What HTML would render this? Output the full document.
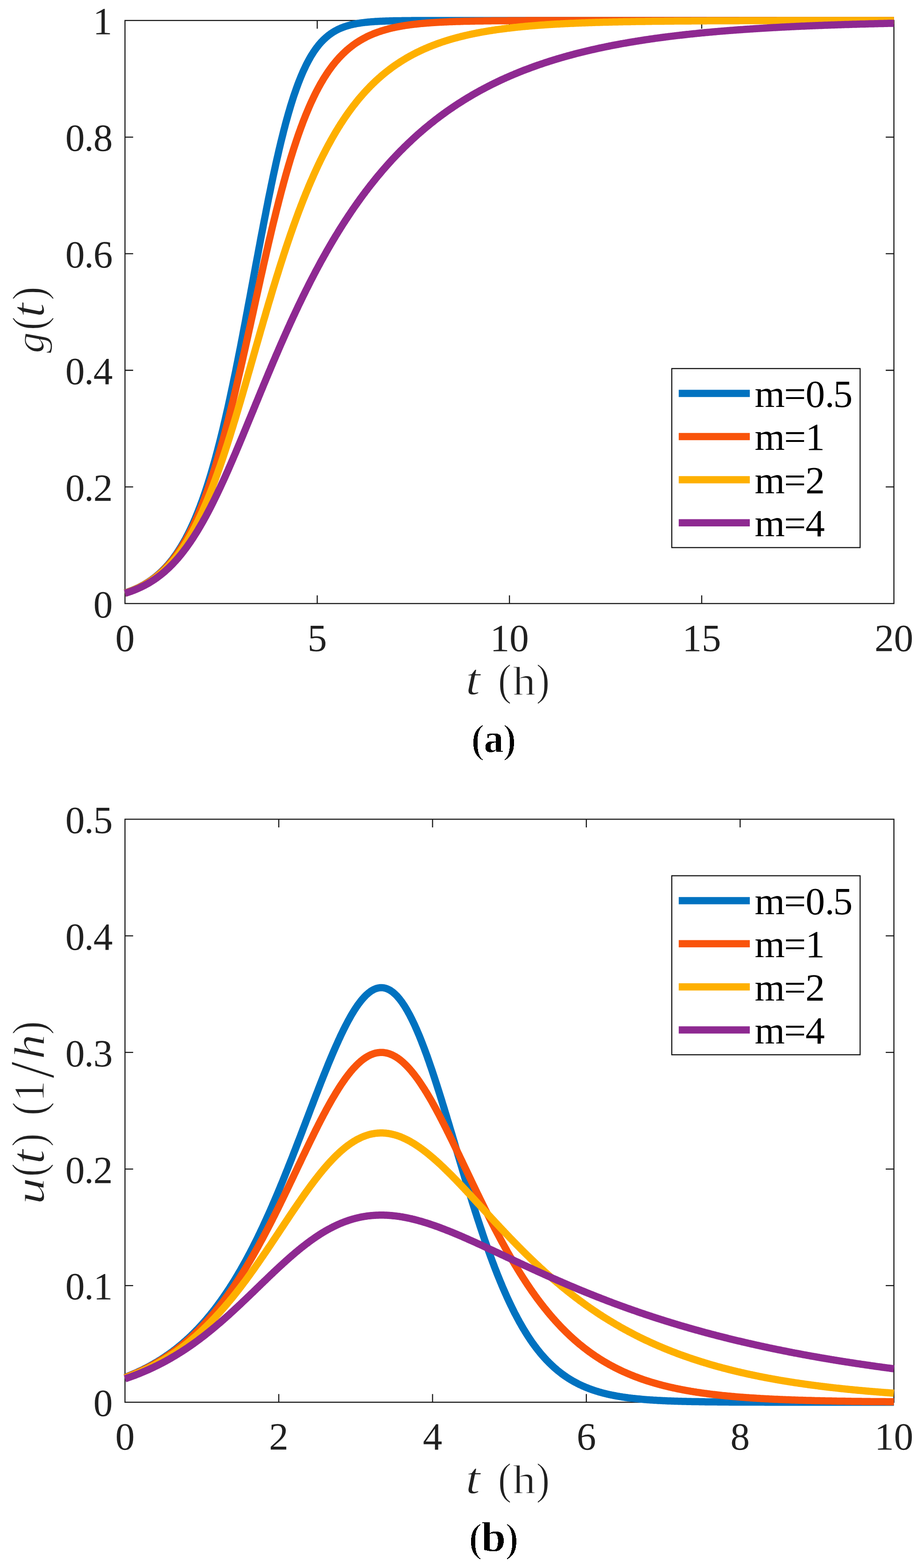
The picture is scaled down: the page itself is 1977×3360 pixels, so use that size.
<!DOCTYPE html><html><head><meta charset="utf-8"><title>g(t) and u(t)</title><style>html,body{margin:0;padding:0;background:#fff;}svg{display:block}</style></head><body>
<svg width="1977" height="3360" viewBox="0 0 1977 3360">
<rect width="1977" height="3360" fill="#fff"/>
<g stroke="#151515" stroke-width="2.3" fill="none">
<path d="M679.5,1293.3V1275.8M679.5,43.9V61.4M1091.2,1293.3V1275.8M1091.2,43.9V61.4M1503.0,1293.3V1275.8M1503.0,43.9V61.4M267.7,1043.4H285.2M1914.7,1043.4H1897.2M267.7,793.5H285.2M1914.7,793.5H1897.2M267.7,543.7H285.2M1914.7,543.7H1897.2M267.7,293.8H285.2M1914.7,293.8H1897.2"/>
<rect x="267.7" y="43.9" width="1647.0" height="1249.4"/>
</g>
<g fill="none" stroke-width="15.5" stroke-linejoin="round" stroke-linecap="butt">
<polyline stroke="#0072C0" points="267.7,1270.7 269.8,1270.0 271.8,1269.3 273.9,1268.6 275.9,1267.9 278.0,1267.1 280.1,1266.3 282.1,1265.5 284.2,1264.7 286.3,1263.8 288.3,1263.0 290.4,1262.1 292.4,1261.1 294.5,1260.2 296.6,1259.2 298.6,1258.2 300.7,1257.1 302.7,1256.0 304.8,1254.9 306.9,1253.8 308.9,1252.6 311.0,1251.4 313.0,1250.1 315.1,1248.9 317.2,1247.5 319.2,1246.2 321.3,1244.8 323.4,1243.4 325.4,1241.9 327.5,1240.4 329.5,1238.8 331.6,1237.2 333.7,1235.5 335.7,1233.8 337.8,1232.1 339.8,1230.3 341.9,1228.5 344.0,1226.6 346.0,1224.6 348.1,1222.6 350.2,1220.5 352.2,1218.4 354.3,1216.3 356.3,1214.0 358.4,1211.7 360.5,1209.4 362.5,1206.9 364.6,1204.4 366.6,1201.9 368.7,1199.3 370.8,1196.6 372.8,1193.8 374.9,1190.9 377.0,1188.0 379.0,1185.0 381.1,1181.9 383.1,1178.8 385.2,1175.5 387.3,1172.2 389.3,1168.8 391.4,1165.3 393.4,1161.7 395.5,1158.0 397.6,1154.3 399.6,1150.4 401.7,1146.4 403.7,1142.4 405.8,1138.2 407.9,1133.9 409.9,1129.6 412.0,1125.1 414.1,1120.5 416.1,1115.8 418.2,1111.0 420.2,1106.1 422.3,1101.1 424.4,1095.9 426.4,1090.6 428.5,1085.3 430.5,1079.7 432.6,1074.1 434.7,1068.4 436.7,1062.5 438.8,1056.5 440.9,1050.3 442.9,1044.1 445.0,1037.7 447.0,1031.2 449.1,1024.5 451.2,1017.7 453.2,1010.8 455.3,1003.8 457.3,996.6 459.4,989.3 461.5,981.8 463.5,974.2 465.6,966.5 467.6,958.6 469.7,950.6 471.8,942.5 473.8,934.2 475.9,925.8 478.0,917.3 480.0,908.6 482.1,899.8 484.1,890.9 486.2,881.8 488.3,872.6 490.3,863.3 492.4,853.9 494.4,844.4 496.5,834.7 498.6,825.0 500.6,815.1 502.7,805.1 504.8,795.0 506.8,784.8 508.9,774.6 510.9,764.2 513.0,753.7 515.1,743.2 517.1,732.6 519.2,721.9 521.2,711.1 523.3,700.3 525.4,689.4 527.4,678.5 529.5,667.5 531.5,656.5 533.6,645.4 535.7,634.4 537.7,623.3 539.8,612.2 541.9,601.0 543.9,589.9 546.0,578.8 548.0,567.7 550.1,556.6 552.2,545.6 554.2,534.5 556.3,523.6 558.3,512.6 560.4,501.7 562.5,490.9 564.5,480.2 566.6,469.5 568.7,458.9 570.7,448.4 572.8,437.9 574.8,427.6 576.9,417.4 579.0,407.3 581.0,397.3 583.1,387.4 585.1,377.6 587.2,368.0 589.3,358.5 591.3,349.2 593.4,340.0 595.5,330.9 597.5,322.0 599.6,313.3 601.6,304.7 603.7,296.3 605.8,288.0 607.8,279.9 609.9,272.0 611.9,264.2 614.0,256.6 616.1,249.2 618.1,241.9 620.2,234.9 622.2,228.0 624.3,221.2 626.4,214.7 628.4,208.3 630.5,202.1 632.6,196.1 634.6,190.2 636.7,184.5 638.7,179.0 640.8,173.6 642.9,168.4 644.9,163.4 647.0,158.5 649.0,153.8 651.1,149.2 653.2,144.8 655.2,140.5 657.3,136.4 659.4,132.4 661.4,128.6 663.5,124.9 665.5,121.3 667.6,117.9 669.7,114.6 671.7,111.4 673.8,108.4 675.8,105.5 677.9,102.6 680.0,99.9 682.0,97.3 684.1,94.8 686.1,92.4 688.2,90.1 690.3,88.0 692.3,85.8 694.4,83.8 696.5,81.9 698.5,80.1 700.6,78.3 702.6,76.6 704.7,75.0 706.8,73.5 708.8,72.0 710.9,70.6 712.9,69.3 715.0,68.0 717.1,66.8 719.1,65.6 721.2,64.5 723.3,63.4 725.3,62.4 727.4,61.5 729.4,60.6 731.5,59.7 733.6,58.9 735.6,58.1 737.7,57.4 739.7,56.7 741.8,56.0 743.9,55.4 745.9,54.7 748.0,54.2 750.1,53.6 752.1,53.1 754.2,52.6 756.2,52.1 758.3,51.7 760.4,51.3 762.4,50.9 764.5,50.5 766.5,50.1 768.6,49.8 770.7,49.5 772.7,49.2 774.8,48.9 776.8,48.6 778.9,48.4 781.0,48.1 783.0,47.9 785.1,47.7 787.2,47.5 789.2,47.3 791.3,47.1 793.3,46.9 795.4,46.7 797.5,46.6 799.5,46.4 801.6,46.3 803.6,46.1 805.7,46.0 807.8,45.9 809.8,45.8 811.9,45.7 814.0,45.6 816.0,45.5 818.1,45.4 820.1,45.3 822.2,45.2 824.3,45.2 826.3,45.1 828.4,45.0 830.4,45.0 832.5,44.9 834.6,44.8 836.6,44.8 838.7,44.7 840.7,44.7 842.8,44.6 844.9,44.6 846.9,44.6 849.0,44.5 851.1,44.5 853.1,44.5 855.2,44.4 857.2,44.4 859.3,44.4 861.4,44.3 863.4,44.3 865.5,44.3 867.5,44.3 869.6,44.2 871.7,44.2 873.7,44.2 875.8,44.2 877.9,44.2 879.9,44.2 882.0,44.1 884.0,44.1 886.1,44.1 888.2,44.1 890.2,44.1 892.3,44.1 894.3,44.1 896.4,44.1 898.5,44.1 900.5,44.0 902.6,44.0 904.6,44.0 906.7,44.0 908.8,44.0 910.8,44.0 912.9,44.0 915.0,44.0 917.0,44.0 919.1,44.0 921.1,44.0 923.2,44.0 925.3,44.0 927.3,44.0 929.4,44.0 931.4,44.0 933.5,44.0 935.6,44.0 937.6,43.9 939.7,43.9 941.8,43.9 943.8,43.9 945.9,43.9 947.9,43.9 950.0,43.9 952.1,43.9 954.1,43.9 956.2,43.9 958.2,43.9 960.3,43.9 962.4,43.9 964.4,43.9 966.5,43.9 968.6,43.9 970.6,43.9 972.7,43.9 974.7,43.9 976.8,43.9 978.9,43.9 980.9,43.9 983.0,43.9 985.0,43.9 987.1,43.9 989.2,43.9 991.2,43.9 993.3,43.9 995.3,43.9 997.4,43.9 999.5,43.9 1001.5,43.9 1003.6,43.9 1005.7,43.9 1007.7,43.9 1009.8,43.9 1011.8,43.9 1013.9,43.9 1016.0,43.9 1018.0,43.9 1020.1,43.9 1022.1,43.9 1024.2,43.9 1026.3,43.9 1028.3,43.9 1030.4,43.9 1032.5,43.9 1034.5,43.9 1036.6,43.9 1038.6,43.9 1040.7,43.9 1042.8,43.9 1044.8,43.9 1046.9,43.9 1048.9,43.9 1051.0,43.9 1053.1,43.9 1055.1,43.9 1057.2,43.9 1059.2,43.9 1061.3,43.9 1063.4,43.9 1065.4,43.9 1067.5,43.9 1069.6,43.9 1071.6,43.9 1073.7,43.9 1075.7,43.9 1077.8,43.9 1079.9,43.9 1081.9,43.9 1084.0,43.9 1086.0,43.9 1088.1,43.9 1090.2,43.9 1092.2,43.9 1094.3,43.9 1096.4,43.9 1098.4,43.9 1100.5,43.9 1102.5,43.9 1104.6,43.9 1106.7,43.9 1108.7,43.9 1110.8,43.9 1112.8,43.9 1114.9,43.9 1117.0,43.9 1119.0,43.9 1121.1,43.9 1123.2,43.9 1125.2,43.9 1127.3,43.9 1129.3,43.9 1131.4,43.9 1133.5,43.9 1135.5,43.9 1137.6,43.9 1139.6,43.9 1141.7,43.9 1143.8,43.9 1145.8,43.9 1147.9,43.9 1149.9,43.9 1152.0,43.9 1154.1,43.9 1156.1,43.9 1158.2,43.9 1160.3,43.9 1162.3,43.9 1164.4,43.9 1166.4,43.9 1168.5,43.9 1170.6,43.9 1172.6,43.9 1174.7,43.9 1176.7,43.9 1178.8,43.9 1180.9,43.9 1182.9,43.9 1185.0,43.9 1187.1,43.9 1189.1,43.9 1191.2,43.9 1193.2,43.9 1195.3,43.9 1197.4,43.9 1199.4,43.9 1201.5,43.9 1203.5,43.9 1205.6,43.9 1207.7,43.9 1209.7,43.9 1211.8,43.9 1213.8,43.9 1215.9,43.9 1218.0,43.9 1220.0,43.9 1222.1,43.9 1224.2,43.9 1226.2,43.9 1228.3,43.9 1230.3,43.9 1232.4,43.9 1234.5,43.9 1236.5,43.9 1238.6,43.9 1240.6,43.9 1242.7,43.9 1244.8,43.9 1246.8,43.9 1248.9,43.9 1251.0,43.9 1253.0,43.9 1255.1,43.9 1257.1,43.9 1259.2,43.9 1261.3,43.9 1263.3,43.9 1265.4,43.9 1267.4,43.9 1269.5,43.9 1271.6,43.9 1273.6,43.9 1275.7,43.9 1277.8,43.9 1279.8,43.9 1281.9,43.9 1283.9,43.9 1286.0,43.9 1288.1,43.9 1290.1,43.9 1292.2,43.9 1294.2,43.9 1296.3,43.9 1298.4,43.9 1300.4,43.9 1302.5,43.9 1304.5,43.9 1306.6,43.9 1308.7,43.9 1310.7,43.9 1312.8,43.9 1314.9,43.9 1316.9,43.9 1319.0,43.9 1321.0,43.9 1323.1,43.9 1325.2,43.9 1327.2,43.9 1329.3,43.9 1331.3,43.9 1333.4,43.9 1335.5,43.9 1337.5,43.9 1339.6,43.9 1341.7,43.9 1343.7,43.9 1345.8,43.9 1347.8,43.9 1349.9,43.9 1352.0,43.9 1354.0,43.9 1356.1,43.9 1358.1,43.9 1360.2,43.9 1362.3,43.9 1364.3,43.9 1366.4,43.9 1368.4,43.9 1370.5,43.9 1372.6,43.9 1374.6,43.9 1376.7,43.9 1378.8,43.9 1380.8,43.9 1382.9,43.9 1384.9,43.9 1387.0,43.9 1389.1,43.9 1391.1,43.9 1393.2,43.9 1395.2,43.9 1397.3,43.9 1399.4,43.9 1401.4,43.9 1403.5,43.9 1405.6,43.9 1407.6,43.9 1409.7,43.9 1411.7,43.9 1413.8,43.9 1415.9,43.9 1417.9,43.9 1420.0,43.9 1422.0,43.9 1424.1,43.9 1426.2,43.9 1428.2,43.9 1430.3,43.9 1432.3,43.9 1434.4,43.9 1436.5,43.9 1438.5,43.9 1440.6,43.9 1442.7,43.9 1444.7,43.9 1446.8,43.9 1448.8,43.9 1450.9,43.9 1453.0,43.9 1455.0,43.9 1457.1,43.9 1459.1,43.9 1461.2,43.9 1463.3,43.9 1465.3,43.9 1467.4,43.9 1469.5,43.9 1471.5,43.9 1473.6,43.9 1475.6,43.9 1477.7,43.9 1479.8,43.9 1481.8,43.9 1483.9,43.9 1485.9,43.9 1488.0,43.9 1490.1,43.9 1492.1,43.9 1494.2,43.9 1496.3,43.9 1498.3,43.9 1500.4,43.9 1502.4,43.9 1504.5,43.9 1506.6,43.9 1508.6,43.9 1510.7,43.9 1512.7,43.9 1514.8,43.9 1516.9,43.9 1518.9,43.9 1521.0,43.9 1523.0,43.9 1525.1,43.9 1527.2,43.9 1529.2,43.9 1531.3,43.9 1533.4,43.9 1535.4,43.9 1537.5,43.9 1539.5,43.9 1541.6,43.9 1543.7,43.9 1545.7,43.9 1547.8,43.9 1549.8,43.9 1551.9,43.9 1554.0,43.9 1556.0,43.9 1558.1,43.9 1560.2,43.9 1562.2,43.9 1564.3,43.9 1566.3,43.9 1568.4,43.9 1570.5,43.9 1572.5,43.9 1574.6,43.9 1576.6,43.9 1578.7,43.9 1580.8,43.9 1582.8,43.9 1584.9,43.9 1586.9,43.9 1589.0,43.9 1591.1,43.9 1593.1,43.9 1595.2,43.9 1597.3,43.9 1599.3,43.9 1601.4,43.9 1603.4,43.9 1605.5,43.9 1607.6,43.9 1609.6,43.9 1611.7,43.9 1613.7,43.9 1615.8,43.9 1617.9,43.9 1619.9,43.9 1622.0,43.9 1624.1,43.9 1626.1,43.9 1628.2,43.9 1630.2,43.9 1632.3,43.9 1634.4,43.9 1636.4,43.9 1638.5,43.9 1640.5,43.9 1642.6,43.9 1644.7,43.9 1646.7,43.9 1648.8,43.9 1650.9,43.9 1652.9,43.9 1655.0,43.9 1657.0,43.9 1659.1,43.9 1661.2,43.9 1663.2,43.9 1665.3,43.9 1667.3,43.9 1669.4,43.9 1671.5,43.9 1673.5,43.9 1675.6,43.9 1677.6,43.9 1679.7,43.9 1681.8,43.9 1683.8,43.9 1685.9,43.9 1688.0,43.9 1690.0,43.9 1692.1,43.9 1694.1,43.9 1696.2,43.9 1698.3,43.9 1700.3,43.9 1702.4,43.9 1704.4,43.9 1706.5,43.9 1708.6,43.9 1710.6,43.9 1712.7,43.9 1714.8,43.9 1716.8,43.9 1718.9,43.9 1720.9,43.9 1723.0,43.9 1725.1,43.9 1727.1,43.9 1729.2,43.9 1731.2,43.9 1733.3,43.9 1735.4,43.9 1737.4,43.9 1739.5,43.9 1741.5,43.9 1743.6,43.9 1745.7,43.9 1747.7,43.9 1749.8,43.9 1751.9,43.9 1753.9,43.9 1756.0,43.9 1758.0,43.9 1760.1,43.9 1762.2,43.9 1764.2,43.9 1766.3,43.9 1768.3,43.9 1770.4,43.9 1772.5,43.9 1774.5,43.9 1776.6,43.9 1778.7,43.9 1780.7,43.9 1782.8,43.9 1784.8,43.9 1786.9,43.9 1789.0,43.9 1791.0,43.9 1793.1,43.9 1795.1,43.9 1797.2,43.9 1799.3,43.9 1801.3,43.9 1803.4,43.9 1805.4,43.9 1807.5,43.9 1809.6,43.9 1811.6,43.9 1813.7,43.9 1815.8,43.9 1817.8,43.9 1819.9,43.9 1821.9,43.9 1824.0,43.9 1826.1,43.9 1828.1,43.9 1830.2,43.9 1832.2,43.9 1834.3,43.9 1836.4,43.9 1838.4,43.9 1840.5,43.9 1842.6,43.9 1844.6,43.9 1846.7,43.9 1848.7,43.9 1850.8,43.9 1852.9,43.9 1854.9,43.9 1857.0,43.9 1859.0,43.9 1861.1,43.9 1863.2,43.9 1865.2,43.9 1867.3,43.9 1869.4,43.9 1871.4,43.9 1873.5,43.9 1875.5,43.9 1877.6,43.9 1879.7,43.9 1881.7,43.9 1883.8,43.9 1885.8,43.9 1887.9,43.9 1890.0,43.9 1892.0,43.9 1894.1,43.9 1896.1,43.9 1898.2,43.9 1900.3,43.9 1902.3,43.9 1904.4,43.9 1906.5,43.9 1908.5,43.9 1910.6,43.9 1912.6,43.9 1914.7,43.9"/>
<polyline stroke="#F9530A" points="267.7,1270.8 269.8,1270.2 271.8,1269.5 273.9,1268.8 275.9,1268.0 278.0,1267.3 280.1,1266.5 282.1,1265.7 284.2,1264.9 286.3,1264.0 288.3,1263.1 290.4,1262.2 292.4,1261.3 294.5,1260.4 296.6,1259.4 298.6,1258.4 300.7,1257.4 302.7,1256.3 304.8,1255.2 306.9,1254.1 308.9,1252.9 311.0,1251.7 313.0,1250.5 315.1,1249.2 317.2,1248.0 319.2,1246.6 321.3,1245.3 323.4,1243.8 325.4,1242.4 327.5,1240.9 329.5,1239.4 331.6,1237.8 333.7,1236.2 335.7,1234.5 337.8,1232.8 339.8,1231.1 341.9,1229.3 344.0,1227.4 346.0,1225.5 348.1,1223.6 350.2,1221.6 352.2,1219.5 354.3,1217.4 356.3,1215.2 358.4,1213.0 360.5,1210.7 362.5,1208.4 364.6,1206.0 366.6,1203.5 368.7,1201.0 370.8,1198.4 372.8,1195.7 374.9,1193.0 377.0,1190.1 379.0,1187.3 381.1,1184.3 383.1,1181.3 385.2,1178.2 387.3,1175.0 389.3,1171.8 391.4,1168.4 393.4,1165.0 395.5,1161.5 397.6,1157.9 399.6,1154.3 401.7,1150.5 403.7,1146.7 405.8,1142.7 407.9,1138.7 409.9,1134.6 412.0,1130.4 414.1,1126.1 416.1,1121.7 418.2,1117.2 420.2,1112.6 422.3,1107.9 424.4,1103.1 426.4,1098.2 428.5,1093.2 430.5,1088.1 432.6,1082.9 434.7,1077.6 436.7,1072.2 438.8,1066.7 440.9,1061.0 442.9,1055.3 445.0,1049.5 447.0,1043.5 449.1,1037.5 451.2,1031.3 453.2,1025.0 455.3,1018.6 457.3,1012.1 459.4,1005.5 461.5,998.8 463.5,992.0 465.6,985.1 467.6,978.1 469.7,970.9 471.8,963.7 473.8,956.4 475.9,948.9 478.0,941.4 480.0,933.7 482.1,926.0 484.1,918.2 486.2,910.2 488.3,902.2 490.3,894.1 492.4,885.9 494.4,877.6 496.5,869.2 498.6,860.8 500.6,852.2 502.7,843.6 504.8,834.9 506.8,826.2 508.9,817.4 510.9,808.5 513.0,799.5 515.1,790.5 517.1,781.5 519.2,772.4 521.2,763.3 523.3,754.1 525.4,744.8 527.4,735.6 529.5,726.3 531.5,717.0 533.6,707.6 535.7,698.3 537.7,688.9 539.8,679.5 541.9,670.2 543.9,660.8 546.0,651.4 548.0,642.0 550.1,632.7 552.2,623.3 554.2,614.0 556.3,604.7 558.3,595.4 560.4,586.2 562.5,577.0 564.5,567.8 566.6,558.7 568.7,549.7 570.7,540.6 572.8,531.7 574.8,522.8 576.9,513.9 579.0,505.2 581.0,496.5 583.1,487.8 585.1,479.3 587.2,470.8 589.3,462.4 591.3,454.1 593.4,445.8 595.5,437.7 597.5,429.6 599.6,421.7 601.6,413.8 603.7,406.0 605.8,398.4 607.8,390.8 609.9,383.3 611.9,375.9 614.0,368.7 616.1,361.5 618.1,354.4 620.2,347.5 622.2,340.6 624.3,333.9 626.4,327.2 628.4,320.7 630.5,314.3 632.6,308.0 634.6,301.8 636.7,295.7 638.7,289.7 640.8,283.8 642.9,278.1 644.9,272.4 647.0,266.9 649.0,261.4 651.1,256.1 653.2,250.8 655.2,245.7 657.3,240.7 659.4,235.7 661.4,230.9 663.5,226.2 665.5,221.5 667.6,217.0 669.7,212.6 671.7,208.3 673.8,204.0 675.8,199.9 677.9,195.8 680.0,191.8 682.0,188.0 684.1,184.2 686.1,180.5 688.2,176.9 690.3,173.4 692.3,169.9 694.4,166.5 696.5,163.3 698.5,160.1 700.6,156.9 702.6,153.9 704.7,150.9 706.8,148.0 708.8,145.2 710.9,142.4 712.9,139.7 715.0,137.1 717.1,134.5 719.1,132.0 721.2,129.6 723.3,127.3 725.3,124.9 727.4,122.7 729.4,120.5 731.5,118.4 733.6,116.3 735.6,114.3 737.7,112.3 739.7,110.4 741.8,108.5 743.9,106.7 745.9,104.9 748.0,103.2 750.1,101.6 752.1,99.9 754.2,98.3 756.2,96.8 758.3,95.3 760.4,93.8 762.4,92.4 764.5,91.0 766.5,89.7 768.6,88.4 770.7,87.1 772.7,85.9 774.8,84.7 776.8,83.5 778.9,82.4 781.0,81.3 783.0,80.2 785.1,79.1 787.2,78.1 789.2,77.1 791.3,76.2 793.3,75.3 795.4,74.4 797.5,73.5 799.5,72.6 801.6,71.8 803.6,71.0 805.7,70.2 807.8,69.4 809.8,68.7 811.9,68.0 814.0,67.3 816.0,66.6 818.1,65.9 820.1,65.3 822.2,64.7 824.3,64.1 826.3,63.5 828.4,62.9 830.4,62.4 832.5,61.8 834.6,61.3 836.6,60.8 838.7,60.3 840.7,59.8 842.8,59.3 844.9,58.9 846.9,58.5 849.0,58.0 851.1,57.6 853.1,57.2 855.2,56.8 857.2,56.4 859.3,56.1 861.4,55.7 863.4,55.4 865.5,55.0 867.5,54.7 869.6,54.4 871.7,54.1 873.7,53.8 875.8,53.5 877.9,53.2 879.9,52.9 882.0,52.7 884.0,52.4 886.1,52.2 888.2,51.9 890.2,51.7 892.3,51.5 894.3,51.2 896.4,51.0 898.5,50.8 900.5,50.6 902.6,50.4 904.6,50.2 906.7,50.0 908.8,49.9 910.8,49.7 912.9,49.5 915.0,49.3 917.0,49.2 919.1,49.0 921.1,48.9 923.2,48.7 925.3,48.6 927.3,48.4 929.4,48.3 931.4,48.2 933.5,48.1 935.6,47.9 937.6,47.8 939.7,47.7 941.8,47.6 943.8,47.5 945.9,47.4 947.9,47.3 950.0,47.2 952.1,47.1 954.1,47.0 956.2,46.9 958.2,46.8 960.3,46.7 962.4,46.6 964.4,46.6 966.5,46.5 968.6,46.4 970.6,46.3 972.7,46.3 974.7,46.2 976.8,46.1 978.9,46.1 980.9,46.0 983.0,45.9 985.0,45.9 987.1,45.8 989.2,45.8 991.2,45.7 993.3,45.6 995.3,45.6 997.4,45.5 999.5,45.5 1001.5,45.4 1003.6,45.4 1005.7,45.4 1007.7,45.3 1009.8,45.3 1011.8,45.2 1013.9,45.2 1016.0,45.2 1018.0,45.1 1020.1,45.1 1022.1,45.0 1024.2,45.0 1026.3,45.0 1028.3,44.9 1030.4,44.9 1032.5,44.9 1034.5,44.9 1036.6,44.8 1038.6,44.8 1040.7,44.8 1042.8,44.7 1044.8,44.7 1046.9,44.7 1048.9,44.7 1051.0,44.7 1053.1,44.6 1055.1,44.6 1057.2,44.6 1059.2,44.6 1061.3,44.5 1063.4,44.5 1065.4,44.5 1067.5,44.5 1069.6,44.5 1071.6,44.5 1073.7,44.4 1075.7,44.4 1077.8,44.4 1079.9,44.4 1081.9,44.4 1084.0,44.4 1086.0,44.4 1088.1,44.3 1090.2,44.3 1092.2,44.3 1094.3,44.3 1096.4,44.3 1098.4,44.3 1100.5,44.3 1102.5,44.3 1104.6,44.2 1106.7,44.2 1108.7,44.2 1110.8,44.2 1112.8,44.2 1114.9,44.2 1117.0,44.2 1119.0,44.2 1121.1,44.2 1123.2,44.2 1125.2,44.2 1127.3,44.1 1129.3,44.1 1131.4,44.1 1133.5,44.1 1135.5,44.1 1137.6,44.1 1139.6,44.1 1141.7,44.1 1143.8,44.1 1145.8,44.1 1147.9,44.1 1149.9,44.1 1152.0,44.1 1154.1,44.1 1156.1,44.1 1158.2,44.1 1160.3,44.1 1162.3,44.0 1164.4,44.0 1166.4,44.0 1168.5,44.0 1170.6,44.0 1172.6,44.0 1174.7,44.0 1176.7,44.0 1178.8,44.0 1180.9,44.0 1182.9,44.0 1185.0,44.0 1187.1,44.0 1189.1,44.0 1191.2,44.0 1193.2,44.0 1195.3,44.0 1197.4,44.0 1199.4,44.0 1201.5,44.0 1203.5,44.0 1205.6,44.0 1207.7,44.0 1209.7,44.0 1211.8,44.0 1213.8,44.0 1215.9,44.0 1218.0,44.0 1220.0,44.0 1222.1,44.0 1224.2,44.0 1226.2,44.0 1228.3,44.0 1230.3,44.0 1232.4,44.0 1234.5,44.0 1236.5,44.0 1238.6,43.9 1240.6,43.9 1242.7,43.9 1244.8,43.9 1246.8,43.9 1248.9,43.9 1251.0,43.9 1253.0,43.9 1255.1,43.9 1257.1,43.9 1259.2,43.9 1261.3,43.9 1263.3,43.9 1265.4,43.9 1267.4,43.9 1269.5,43.9 1271.6,43.9 1273.6,43.9 1275.7,43.9 1277.8,43.9 1279.8,43.9 1281.9,43.9 1283.9,43.9 1286.0,43.9 1288.1,43.9 1290.1,43.9 1292.2,43.9 1294.2,43.9 1296.3,43.9 1298.4,43.9 1300.4,43.9 1302.5,43.9 1304.5,43.9 1306.6,43.9 1308.7,43.9 1310.7,43.9 1312.8,43.9 1314.9,43.9 1316.9,43.9 1319.0,43.9 1321.0,43.9 1323.1,43.9 1325.2,43.9 1327.2,43.9 1329.3,43.9 1331.3,43.9 1333.4,43.9 1335.5,43.9 1337.5,43.9 1339.6,43.9 1341.7,43.9 1343.7,43.9 1345.8,43.9 1347.8,43.9 1349.9,43.9 1352.0,43.9 1354.0,43.9 1356.1,43.9 1358.1,43.9 1360.2,43.9 1362.3,43.9 1364.3,43.9 1366.4,43.9 1368.4,43.9 1370.5,43.9 1372.6,43.9 1374.6,43.9 1376.7,43.9 1378.8,43.9 1380.8,43.9 1382.9,43.9 1384.9,43.9 1387.0,43.9 1389.1,43.9 1391.1,43.9 1393.2,43.9 1395.2,43.9 1397.3,43.9 1399.4,43.9 1401.4,43.9 1403.5,43.9 1405.6,43.9 1407.6,43.9 1409.7,43.9 1411.7,43.9 1413.8,43.9 1415.9,43.9 1417.9,43.9 1420.0,43.9 1422.0,43.9 1424.1,43.9 1426.2,43.9 1428.2,43.9 1430.3,43.9 1432.3,43.9 1434.4,43.9 1436.5,43.9 1438.5,43.9 1440.6,43.9 1442.7,43.9 1444.7,43.9 1446.8,43.9 1448.8,43.9 1450.9,43.9 1453.0,43.9 1455.0,43.9 1457.1,43.9 1459.1,43.9 1461.2,43.9 1463.3,43.9 1465.3,43.9 1467.4,43.9 1469.5,43.9 1471.5,43.9 1473.6,43.9 1475.6,43.9 1477.7,43.9 1479.8,43.9 1481.8,43.9 1483.9,43.9 1485.9,43.9 1488.0,43.9 1490.1,43.9 1492.1,43.9 1494.2,43.9 1496.3,43.9 1498.3,43.9 1500.4,43.9 1502.4,43.9 1504.5,43.9 1506.6,43.9 1508.6,43.9 1510.7,43.9 1512.7,43.9 1514.8,43.9 1516.9,43.9 1518.9,43.9 1521.0,43.9 1523.0,43.9 1525.1,43.9 1527.2,43.9 1529.2,43.9 1531.3,43.9 1533.4,43.9 1535.4,43.9 1537.5,43.9 1539.5,43.9 1541.6,43.9 1543.7,43.9 1545.7,43.9 1547.8,43.9 1549.8,43.9 1551.9,43.9 1554.0,43.9 1556.0,43.9 1558.1,43.9 1560.2,43.9 1562.2,43.9 1564.3,43.9 1566.3,43.9 1568.4,43.9 1570.5,43.9 1572.5,43.9 1574.6,43.9 1576.6,43.9 1578.7,43.9 1580.8,43.9 1582.8,43.9 1584.9,43.9 1586.9,43.9 1589.0,43.9 1591.1,43.9 1593.1,43.9 1595.2,43.9 1597.3,43.9 1599.3,43.9 1601.4,43.9 1603.4,43.9 1605.5,43.9 1607.6,43.9 1609.6,43.9 1611.7,43.9 1613.7,43.9 1615.8,43.9 1617.9,43.9 1619.9,43.9 1622.0,43.9 1624.1,43.9 1626.1,43.9 1628.2,43.9 1630.2,43.9 1632.3,43.9 1634.4,43.9 1636.4,43.9 1638.5,43.9 1640.5,43.9 1642.6,43.9 1644.7,43.9 1646.7,43.9 1648.8,43.9 1650.9,43.9 1652.9,43.9 1655.0,43.9 1657.0,43.9 1659.1,43.9 1661.2,43.9 1663.2,43.9 1665.3,43.9 1667.3,43.9 1669.4,43.9 1671.5,43.9 1673.5,43.9 1675.6,43.9 1677.6,43.9 1679.7,43.9 1681.8,43.9 1683.8,43.9 1685.9,43.9 1688.0,43.9 1690.0,43.9 1692.1,43.9 1694.1,43.9 1696.2,43.9 1698.3,43.9 1700.3,43.9 1702.4,43.9 1704.4,43.9 1706.5,43.9 1708.6,43.9 1710.6,43.9 1712.7,43.9 1714.8,43.9 1716.8,43.9 1718.9,43.9 1720.9,43.9 1723.0,43.9 1725.1,43.9 1727.1,43.9 1729.2,43.9 1731.2,43.9 1733.3,43.9 1735.4,43.9 1737.4,43.9 1739.5,43.9 1741.5,43.9 1743.6,43.9 1745.7,43.9 1747.7,43.9 1749.8,43.9 1751.9,43.9 1753.9,43.9 1756.0,43.9 1758.0,43.9 1760.1,43.9 1762.2,43.9 1764.2,43.9 1766.3,43.9 1768.3,43.9 1770.4,43.9 1772.5,43.9 1774.5,43.9 1776.6,43.9 1778.7,43.9 1780.7,43.9 1782.8,43.9 1784.8,43.9 1786.9,43.9 1789.0,43.9 1791.0,43.9 1793.1,43.9 1795.1,43.9 1797.2,43.9 1799.3,43.9 1801.3,43.9 1803.4,43.9 1805.4,43.9 1807.5,43.9 1809.6,43.9 1811.6,43.9 1813.7,43.9 1815.8,43.9 1817.8,43.9 1819.9,43.9 1821.9,43.9 1824.0,43.9 1826.1,43.9 1828.1,43.9 1830.2,43.9 1832.2,43.9 1834.3,43.9 1836.4,43.9 1838.4,43.9 1840.5,43.9 1842.6,43.9 1844.6,43.9 1846.7,43.9 1848.7,43.9 1850.8,43.9 1852.9,43.9 1854.9,43.9 1857.0,43.9 1859.0,43.9 1861.1,43.9 1863.2,43.9 1865.2,43.9 1867.3,43.9 1869.4,43.9 1871.4,43.9 1873.5,43.9 1875.5,43.9 1877.6,43.9 1879.7,43.9 1881.7,43.9 1883.8,43.9 1885.8,43.9 1887.9,43.9 1890.0,43.9 1892.0,43.9 1894.1,43.9 1896.1,43.9 1898.2,43.9 1900.3,43.9 1902.3,43.9 1904.4,43.9 1906.5,43.9 1908.5,43.9 1910.6,43.9 1912.6,43.9 1914.7,43.9"/>
<polyline stroke="#FEB000" points="267.7,1271.0 269.8,1270.4 271.8,1269.7 273.9,1269.0 275.9,1268.3 278.0,1267.5 280.1,1266.8 282.1,1266.0 284.2,1265.2 286.3,1264.4 288.3,1263.5 290.4,1262.6 292.4,1261.7 294.5,1260.8 296.6,1259.8 298.6,1258.9 300.7,1257.9 302.7,1256.8 304.8,1255.8 306.9,1254.7 308.9,1253.6 311.0,1252.4 313.0,1251.2 315.1,1250.0 317.2,1248.7 319.2,1247.5 321.3,1246.1 323.4,1244.8 325.4,1243.4 327.5,1242.0 329.5,1240.5 331.6,1239.0 333.7,1237.4 335.7,1235.9 337.8,1234.2 339.8,1232.6 341.9,1230.8 344.0,1229.1 346.0,1227.3 348.1,1225.4 350.2,1223.5 352.2,1221.6 354.3,1219.6 356.3,1217.5 358.4,1215.4 360.5,1213.3 362.5,1211.1 364.6,1208.8 366.6,1206.5 368.7,1204.1 370.8,1201.7 372.8,1199.2 374.9,1196.7 377.0,1194.1 379.0,1191.4 381.1,1188.7 383.1,1185.9 385.2,1183.0 387.3,1180.1 389.3,1177.1 391.4,1174.1 393.4,1171.0 395.5,1167.8 397.6,1164.5 399.6,1161.2 401.7,1157.8 403.7,1154.3 405.8,1150.8 407.9,1147.2 409.9,1143.5 412.0,1139.7 414.1,1135.9 416.1,1132.0 418.2,1128.0 420.2,1123.9 422.3,1119.8 424.4,1115.6 426.4,1111.3 428.5,1106.9 430.5,1102.5 432.6,1098.0 434.7,1093.4 436.7,1088.7 438.8,1083.9 440.9,1079.1 442.9,1074.2 445.0,1069.2 447.0,1064.1 449.1,1059.0 451.2,1053.7 453.2,1048.4 455.3,1043.1 457.3,1037.6 459.4,1032.1 461.5,1026.5 463.5,1020.8 465.6,1015.1 467.6,1009.3 469.7,1003.4 471.8,997.5 473.8,991.5 475.9,985.4 478.0,979.2 480.0,973.0 482.1,966.8 484.1,960.4 486.2,954.1 488.3,947.6 490.3,941.1 492.4,934.6 494.4,928.0 496.5,921.3 498.6,914.6 500.6,907.9 502.7,901.1 504.8,894.2 506.8,887.4 508.9,880.4 510.9,873.5 513.0,866.5 515.1,859.5 517.1,852.4 519.2,845.4 521.2,838.3 523.3,831.2 525.4,824.0 527.4,816.9 529.5,809.7 531.5,802.5 533.6,795.3 535.7,788.1 537.7,780.9 539.8,773.7 541.9,766.4 543.9,759.2 546.0,752.0 548.0,744.8 550.1,737.6 552.2,730.4 554.2,723.2 556.3,716.0 558.3,708.8 560.4,701.7 562.5,694.6 564.5,687.4 566.6,680.4 568.7,673.3 570.7,666.2 572.8,659.2 574.8,652.2 576.9,645.3 579.0,638.4 581.0,631.5 583.1,624.6 585.1,617.8 587.2,611.0 589.3,604.3 591.3,597.6 593.4,590.9 595.5,584.3 597.5,577.7 599.6,571.2 601.6,564.7 603.7,558.3 605.8,551.9 607.8,545.5 609.9,539.2 611.9,533.0 614.0,526.8 616.1,520.6 618.1,514.6 620.2,508.5 622.2,502.5 624.3,496.6 626.4,490.7 628.4,484.9 630.5,479.1 632.6,473.4 634.6,467.7 636.7,462.1 638.7,456.6 640.8,451.1 642.9,445.7 644.9,440.3 647.0,435.0 649.0,429.7 651.1,424.5 653.2,419.3 655.2,414.2 657.3,409.2 659.4,404.2 661.4,399.2 663.5,394.4 665.5,389.5 667.6,384.8 669.7,380.1 671.7,375.4 673.8,370.8 675.8,366.3 677.9,361.8 680.0,357.3 682.0,352.9 684.1,348.6 686.1,344.3 688.2,340.1 690.3,335.9 692.3,331.8 694.4,327.8 696.5,323.7 698.5,319.8 700.6,315.9 702.6,312.0 704.7,308.2 706.8,304.4 708.8,300.7 710.9,297.0 712.9,293.4 715.0,289.8 717.1,286.3 719.1,282.8 721.2,279.4 723.3,276.0 725.3,272.6 727.4,269.4 729.4,266.1 731.5,262.9 733.6,259.7 735.6,256.6 737.7,253.5 739.7,250.5 741.8,247.5 743.9,244.5 745.9,241.6 748.0,238.7 750.1,235.9 752.1,233.1 754.2,230.3 756.2,227.6 758.3,224.9 760.4,222.3 762.4,219.7 764.5,217.1 766.5,214.6 768.6,212.1 770.7,209.6 772.7,207.2 774.8,204.8 776.8,202.5 778.9,200.1 781.0,197.8 783.0,195.6 785.1,193.3 787.2,191.1 789.2,189.0 791.3,186.8 793.3,184.7 795.4,182.7 797.5,180.6 799.5,178.6 801.6,176.6 803.6,174.7 805.7,172.7 807.8,170.8 809.8,169.0 811.9,167.1 814.0,165.3 816.0,163.5 818.1,161.7 820.1,160.0 822.2,158.3 824.3,156.6 826.3,154.9 828.4,153.3 830.4,151.7 832.5,150.1 834.6,148.5 836.6,147.0 838.7,145.4 840.7,143.9 842.8,142.4 844.9,141.0 846.9,139.5 849.0,138.1 851.1,136.7 853.1,135.4 855.2,134.0 857.2,132.7 859.3,131.3 861.4,130.0 863.4,128.8 865.5,127.5 867.5,126.3 869.6,125.0 871.7,123.8 873.7,122.7 875.8,121.5 877.9,120.3 879.9,119.2 882.0,118.1 884.0,117.0 886.1,115.9 888.2,114.8 890.2,113.8 892.3,112.7 894.3,111.7 896.4,110.7 898.5,109.7 900.5,108.7 902.6,107.8 904.6,106.8 906.7,105.9 908.8,105.0 910.8,104.0 912.9,103.2 915.0,102.3 917.0,101.4 919.1,100.5 921.1,99.7 923.2,98.9 925.3,98.1 927.3,97.3 929.4,96.5 931.4,95.7 933.5,94.9 935.6,94.1 937.6,93.4 939.7,92.7 941.8,91.9 943.8,91.2 945.9,90.5 947.9,89.8 950.0,89.1 952.1,88.5 954.1,87.8 956.2,87.1 958.2,86.5 960.3,85.9 962.4,85.2 964.4,84.6 966.5,84.0 968.6,83.4 970.6,82.8 972.7,82.3 974.7,81.7 976.8,81.1 978.9,80.6 980.9,80.0 983.0,79.5 985.0,79.0 987.1,78.4 989.2,77.9 991.2,77.4 993.3,76.9 995.3,76.4 997.4,75.9 999.5,75.5 1001.5,75.0 1003.6,74.5 1005.7,74.1 1007.7,73.6 1009.8,73.2 1011.8,72.7 1013.9,72.3 1016.0,71.9 1018.0,71.5 1020.1,71.1 1022.1,70.7 1024.2,70.3 1026.3,69.9 1028.3,69.5 1030.4,69.1 1032.5,68.7 1034.5,68.4 1036.6,68.0 1038.6,67.6 1040.7,67.3 1042.8,66.9 1044.8,66.6 1046.9,66.2 1048.9,65.9 1051.0,65.6 1053.1,65.3 1055.1,64.9 1057.2,64.6 1059.2,64.3 1061.3,64.0 1063.4,63.7 1065.4,63.4 1067.5,63.1 1069.6,62.8 1071.6,62.6 1073.7,62.3 1075.7,62.0 1077.8,61.7 1079.9,61.5 1081.9,61.2 1084.0,61.0 1086.0,60.7 1088.1,60.4 1090.2,60.2 1092.2,60.0 1094.3,59.7 1096.4,59.5 1098.4,59.3 1100.5,59.0 1102.5,58.8 1104.6,58.6 1106.7,58.4 1108.7,58.1 1110.8,57.9 1112.8,57.7 1114.9,57.5 1117.0,57.3 1119.0,57.1 1121.1,56.9 1123.2,56.7 1125.2,56.5 1127.3,56.3 1129.3,56.2 1131.4,56.0 1133.5,55.8 1135.5,55.6 1137.6,55.4 1139.6,55.3 1141.7,55.1 1143.8,54.9 1145.8,54.8 1147.9,54.6 1149.9,54.4 1152.0,54.3 1154.1,54.1 1156.1,54.0 1158.2,53.8 1160.3,53.7 1162.3,53.5 1164.4,53.4 1166.4,53.3 1168.5,53.1 1170.6,53.0 1172.6,52.8 1174.7,52.7 1176.7,52.6 1178.8,52.4 1180.9,52.3 1182.9,52.2 1185.0,52.1 1187.1,51.9 1189.1,51.8 1191.2,51.7 1193.2,51.6 1195.3,51.5 1197.4,51.4 1199.4,51.3 1201.5,51.1 1203.5,51.0 1205.6,50.9 1207.7,50.8 1209.7,50.7 1211.8,50.6 1213.8,50.5 1215.9,50.4 1218.0,50.3 1220.0,50.2 1222.1,50.1 1224.2,50.0 1226.2,50.0 1228.3,49.9 1230.3,49.8 1232.4,49.7 1234.5,49.6 1236.5,49.5 1238.6,49.4 1240.6,49.3 1242.7,49.3 1244.8,49.2 1246.8,49.1 1248.9,49.0 1251.0,49.0 1253.0,48.9 1255.1,48.8 1257.1,48.7 1259.2,48.7 1261.3,48.6 1263.3,48.5 1265.4,48.4 1267.4,48.4 1269.5,48.3 1271.6,48.2 1273.6,48.2 1275.7,48.1 1277.8,48.1 1279.8,48.0 1281.9,47.9 1283.9,47.9 1286.0,47.8 1288.1,47.8 1290.1,47.7 1292.2,47.6 1294.2,47.6 1296.3,47.5 1298.4,47.5 1300.4,47.4 1302.5,47.4 1304.5,47.3 1306.6,47.3 1308.7,47.2 1310.7,47.2 1312.8,47.1 1314.9,47.1 1316.9,47.0 1319.0,47.0 1321.0,46.9 1323.1,46.9 1325.2,46.8 1327.2,46.8 1329.3,46.8 1331.3,46.7 1333.4,46.7 1335.5,46.6 1337.5,46.6 1339.6,46.5 1341.7,46.5 1343.7,46.5 1345.8,46.4 1347.8,46.4 1349.9,46.4 1352.0,46.3 1354.0,46.3 1356.1,46.2 1358.1,46.2 1360.2,46.2 1362.3,46.1 1364.3,46.1 1366.4,46.1 1368.4,46.0 1370.5,46.0 1372.6,46.0 1374.6,46.0 1376.7,45.9 1378.8,45.9 1380.8,45.9 1382.9,45.8 1384.9,45.8 1387.0,45.8 1389.1,45.7 1391.1,45.7 1393.2,45.7 1395.2,45.7 1397.3,45.6 1399.4,45.6 1401.4,45.6 1403.5,45.6 1405.6,45.5 1407.6,45.5 1409.7,45.5 1411.7,45.5 1413.8,45.4 1415.9,45.4 1417.9,45.4 1420.0,45.4 1422.0,45.4 1424.1,45.3 1426.2,45.3 1428.2,45.3 1430.3,45.3 1432.3,45.2 1434.4,45.2 1436.5,45.2 1438.5,45.2 1440.6,45.2 1442.7,45.2 1444.7,45.1 1446.8,45.1 1448.8,45.1 1450.9,45.1 1453.0,45.1 1455.0,45.0 1457.1,45.0 1459.1,45.0 1461.2,45.0 1463.3,45.0 1465.3,45.0 1467.4,44.9 1469.5,44.9 1471.5,44.9 1473.6,44.9 1475.6,44.9 1477.7,44.9 1479.8,44.9 1481.8,44.8 1483.9,44.8 1485.9,44.8 1488.0,44.8 1490.1,44.8 1492.1,44.8 1494.2,44.8 1496.3,44.7 1498.3,44.7 1500.4,44.7 1502.4,44.7 1504.5,44.7 1506.6,44.7 1508.6,44.7 1510.7,44.7 1512.7,44.7 1514.8,44.6 1516.9,44.6 1518.9,44.6 1521.0,44.6 1523.0,44.6 1525.1,44.6 1527.2,44.6 1529.2,44.6 1531.3,44.6 1533.4,44.5 1535.4,44.5 1537.5,44.5 1539.5,44.5 1541.6,44.5 1543.7,44.5 1545.7,44.5 1547.8,44.5 1549.8,44.5 1551.9,44.5 1554.0,44.5 1556.0,44.4 1558.1,44.4 1560.2,44.4 1562.2,44.4 1564.3,44.4 1566.3,44.4 1568.4,44.4 1570.5,44.4 1572.5,44.4 1574.6,44.4 1576.6,44.4 1578.7,44.4 1580.8,44.4 1582.8,44.4 1584.9,44.3 1586.9,44.3 1589.0,44.3 1591.1,44.3 1593.1,44.3 1595.2,44.3 1597.3,44.3 1599.3,44.3 1601.4,44.3 1603.4,44.3 1605.5,44.3 1607.6,44.3 1609.6,44.3 1611.7,44.3 1613.7,44.3 1615.8,44.3 1617.9,44.2 1619.9,44.2 1622.0,44.2 1624.1,44.2 1626.1,44.2 1628.2,44.2 1630.2,44.2 1632.3,44.2 1634.4,44.2 1636.4,44.2 1638.5,44.2 1640.5,44.2 1642.6,44.2 1644.7,44.2 1646.7,44.2 1648.8,44.2 1650.9,44.2 1652.9,44.2 1655.0,44.2 1657.0,44.2 1659.1,44.2 1661.2,44.2 1663.2,44.2 1665.3,44.1 1667.3,44.1 1669.4,44.1 1671.5,44.1 1673.5,44.1 1675.6,44.1 1677.6,44.1 1679.7,44.1 1681.8,44.1 1683.8,44.1 1685.9,44.1 1688.0,44.1 1690.0,44.1 1692.1,44.1 1694.1,44.1 1696.2,44.1 1698.3,44.1 1700.3,44.1 1702.4,44.1 1704.4,44.1 1706.5,44.1 1708.6,44.1 1710.6,44.1 1712.7,44.1 1714.8,44.1 1716.8,44.1 1718.9,44.1 1720.9,44.1 1723.0,44.1 1725.1,44.1 1727.1,44.1 1729.2,44.1 1731.2,44.1 1733.3,44.1 1735.4,44.0 1737.4,44.0 1739.5,44.0 1741.5,44.0 1743.6,44.0 1745.7,44.0 1747.7,44.0 1749.8,44.0 1751.9,44.0 1753.9,44.0 1756.0,44.0 1758.0,44.0 1760.1,44.0 1762.2,44.0 1764.2,44.0 1766.3,44.0 1768.3,44.0 1770.4,44.0 1772.5,44.0 1774.5,44.0 1776.6,44.0 1778.7,44.0 1780.7,44.0 1782.8,44.0 1784.8,44.0 1786.9,44.0 1789.0,44.0 1791.0,44.0 1793.1,44.0 1795.1,44.0 1797.2,44.0 1799.3,44.0 1801.3,44.0 1803.4,44.0 1805.4,44.0 1807.5,44.0 1809.6,44.0 1811.6,44.0 1813.7,44.0 1815.8,44.0 1817.8,44.0 1819.9,44.0 1821.9,44.0 1824.0,44.0 1826.1,44.0 1828.1,44.0 1830.2,44.0 1832.2,44.0 1834.3,44.0 1836.4,44.0 1838.4,44.0 1840.5,44.0 1842.6,44.0 1844.6,44.0 1846.7,44.0 1848.7,44.0 1850.8,44.0 1852.9,44.0 1854.9,44.0 1857.0,44.0 1859.0,44.0 1861.1,44.0 1863.2,44.0 1865.2,44.0 1867.3,44.0 1869.4,44.0 1871.4,44.0 1873.5,44.0 1875.5,44.0 1877.6,44.0 1879.7,44.0 1881.7,44.0 1883.8,44.0 1885.8,43.9 1887.9,43.9 1890.0,43.9 1892.0,43.9 1894.1,43.9 1896.1,43.9 1898.2,43.9 1900.3,43.9 1902.3,43.9 1904.4,43.9 1906.5,43.9 1908.5,43.9 1910.6,43.9 1912.6,43.9 1914.7,43.9"/>
<polyline stroke="#8E2991" points="267.7,1271.4 269.8,1270.8 271.8,1270.1 273.9,1269.4 275.9,1268.8 278.0,1268.0 280.1,1267.3 282.1,1266.6 284.2,1265.8 286.3,1265.0 288.3,1264.2 290.4,1263.3 292.4,1262.5 294.5,1261.6 296.6,1260.7 298.6,1259.8 300.7,1258.8 302.7,1257.8 304.8,1256.8 306.9,1255.8 308.9,1254.7 311.0,1253.7 313.0,1252.5 315.1,1251.4 317.2,1250.2 319.2,1249.0 321.3,1247.8 323.4,1246.5 325.4,1245.2 327.5,1243.9 329.5,1242.6 331.6,1241.2 333.7,1239.7 335.7,1238.3 337.8,1236.8 339.8,1235.2 341.9,1233.7 344.0,1232.1 346.0,1230.4 348.1,1228.7 350.2,1227.0 352.2,1225.3 354.3,1223.5 356.3,1221.6 358.4,1219.7 360.5,1217.8 362.5,1215.9 364.6,1213.8 366.6,1211.8 368.7,1209.7 370.8,1207.6 372.8,1205.4 374.9,1203.1 377.0,1200.9 379.0,1198.5 381.1,1196.2 383.1,1193.8 385.2,1191.3 387.3,1188.8 389.3,1186.2 391.4,1183.6 393.4,1181.0 395.5,1178.2 397.6,1175.5 399.6,1172.7 401.7,1169.8 403.7,1166.9 405.8,1164.0 407.9,1161.0 409.9,1157.9 412.0,1154.8 414.1,1151.7 416.1,1148.5 418.2,1145.2 420.2,1141.9 422.3,1138.6 424.4,1135.2 426.4,1131.7 428.5,1128.2 430.5,1124.7 432.6,1121.1 434.7,1117.4 436.7,1113.7 438.8,1110.0 440.9,1106.2 442.9,1102.4 445.0,1098.5 447.0,1094.6 449.1,1090.6 451.2,1086.6 453.2,1082.5 455.3,1078.4 457.3,1074.3 459.4,1070.1 461.5,1065.9 463.5,1061.7 465.6,1057.4 467.6,1053.0 469.7,1048.7 471.8,1044.2 473.8,1039.8 475.9,1035.3 478.0,1030.8 480.0,1026.3 482.1,1021.7 484.1,1017.1 486.2,1012.5 488.3,1007.8 490.3,1003.1 492.4,998.4 494.4,993.7 496.5,988.9 498.6,984.1 500.6,979.3 502.7,974.5 504.8,969.6 506.8,964.8 508.9,959.9 510.9,955.0 513.0,950.1 515.1,945.1 517.1,940.2 519.2,935.3 521.2,930.3 523.3,925.3 525.4,920.3 527.4,915.3 529.5,910.3 531.5,905.3 533.6,900.3 535.7,895.3 537.7,890.3 539.8,885.3 541.9,880.3 543.9,875.2 546.0,870.2 548.0,865.2 550.1,860.2 552.2,855.2 554.2,850.2 556.3,845.2 558.3,840.2 560.4,835.2 562.5,830.2 564.5,825.2 566.6,820.3 568.7,815.3 570.7,810.4 572.8,805.4 574.8,800.5 576.9,795.6 579.0,790.7 581.0,785.8 583.1,780.9 585.1,776.1 587.2,771.2 589.3,766.4 591.3,761.6 593.4,756.8 595.5,752.0 597.5,747.3 599.6,742.5 601.6,737.8 603.7,733.1 605.8,728.4 607.8,723.7 609.9,719.1 611.9,714.5 614.0,709.9 616.1,705.3 618.1,700.7 620.2,696.2 622.2,691.6 624.3,687.1 626.4,682.7 628.4,678.2 630.5,673.8 632.6,669.3 634.6,665.0 636.7,660.6 638.7,656.2 640.8,651.9 642.9,647.6 644.9,643.4 647.0,639.1 649.0,634.9 651.1,630.7 653.2,626.5 655.2,622.3 657.3,618.2 659.4,614.1 661.4,610.0 663.5,605.9 665.5,601.9 667.6,597.9 669.7,593.9 671.7,590.0 673.8,586.0 675.8,582.1 677.9,578.2 680.0,574.3 682.0,570.5 684.1,566.7 686.1,562.9 688.2,559.1 690.3,555.4 692.3,551.7 694.4,548.0 696.5,544.3 698.5,540.6 700.6,537.0 702.6,533.4 704.7,529.8 706.8,526.3 708.8,522.7 710.9,519.2 712.9,515.8 715.0,512.3 717.1,508.9 719.1,505.4 721.2,502.1 723.3,498.7 725.3,495.3 727.4,492.0 729.4,488.7 731.5,485.5 733.6,482.2 735.6,479.0 737.7,475.8 739.7,472.6 741.8,469.4 743.9,466.3 745.9,463.2 748.0,460.1 750.1,457.0 752.1,453.9 754.2,450.9 756.2,447.9 758.3,444.9 760.4,441.9 762.4,439.0 764.5,436.1 766.5,433.1 768.6,430.3 770.7,427.4 772.7,424.6 774.8,421.7 776.8,418.9 778.9,416.1 781.0,413.4 783.0,410.6 785.1,407.9 787.2,405.2 789.2,402.5 791.3,399.9 793.3,397.2 795.4,394.6 797.5,392.0 799.5,389.4 801.6,386.8 803.6,384.3 805.7,381.7 807.8,379.2 809.8,376.7 811.9,374.2 814.0,371.8 816.0,369.3 818.1,366.9 820.1,364.5 822.2,362.1 824.3,359.8 826.3,357.4 828.4,355.1 830.4,352.7 832.5,350.4 834.6,348.2 836.6,345.9 838.7,343.6 840.7,341.4 842.8,339.2 844.9,337.0 846.9,334.8 849.0,332.6 851.1,330.5 853.1,328.3 855.2,326.2 857.2,324.1 859.3,322.0 861.4,319.9 863.4,317.9 865.5,315.8 867.5,313.8 869.6,311.8 871.7,309.8 873.7,307.8 875.8,305.8 877.9,303.9 879.9,301.9 882.0,300.0 884.0,298.1 886.1,296.2 888.2,294.3 890.2,292.4 892.3,290.6 894.3,288.7 896.4,286.9 898.5,285.1 900.5,283.3 902.6,281.5 904.6,279.7 906.7,278.0 908.8,276.2 910.8,274.5 912.9,272.8 915.0,271.1 917.0,269.4 919.1,267.7 921.1,266.0 923.2,264.3 925.3,262.7 927.3,261.1 929.4,259.4 931.4,257.8 933.5,256.2 935.6,254.6 937.6,253.1 939.7,251.5 941.8,249.9 943.8,248.4 945.9,246.9 947.9,245.4 950.0,243.9 952.1,242.4 954.1,240.9 956.2,239.4 958.2,237.9 960.3,236.5 962.4,235.0 964.4,233.6 966.5,232.2 968.6,230.8 970.6,229.4 972.7,228.0 974.7,226.6 976.8,225.3 978.9,223.9 980.9,222.6 983.0,221.2 985.0,219.9 987.1,218.6 989.2,217.3 991.2,216.0 993.3,214.7 995.3,213.4 997.4,212.1 999.5,210.9 1001.5,209.6 1003.6,208.4 1005.7,207.2 1007.7,205.9 1009.8,204.7 1011.8,203.5 1013.9,202.3 1016.0,201.2 1018.0,200.0 1020.1,198.8 1022.1,197.7 1024.2,196.5 1026.3,195.4 1028.3,194.2 1030.4,193.1 1032.5,192.0 1034.5,190.9 1036.6,189.8 1038.6,188.7 1040.7,187.6 1042.8,186.5 1044.8,185.5 1046.9,184.4 1048.9,183.4 1051.0,182.3 1053.1,181.3 1055.1,180.2 1057.2,179.2 1059.2,178.2 1061.3,177.2 1063.4,176.2 1065.4,175.2 1067.5,174.2 1069.6,173.3 1071.6,172.3 1073.7,171.3 1075.7,170.4 1077.8,169.4 1079.9,168.5 1081.9,167.6 1084.0,166.6 1086.0,165.7 1088.1,164.8 1090.2,163.9 1092.2,163.0 1094.3,162.1 1096.4,161.2 1098.4,160.4 1100.5,159.5 1102.5,158.6 1104.6,157.8 1106.7,156.9 1108.7,156.1 1110.8,155.2 1112.8,154.4 1114.9,153.6 1117.0,152.7 1119.0,151.9 1121.1,151.1 1123.2,150.3 1125.2,149.5 1127.3,148.7 1129.3,148.0 1131.4,147.2 1133.5,146.4 1135.5,145.6 1137.6,144.9 1139.6,144.1 1141.7,143.4 1143.8,142.6 1145.8,141.9 1147.9,141.2 1149.9,140.4 1152.0,139.7 1154.1,139.0 1156.1,138.3 1158.2,137.6 1160.3,136.9 1162.3,136.2 1164.4,135.5 1166.4,134.8 1168.5,134.1 1170.6,133.4 1172.6,132.8 1174.7,132.1 1176.7,131.4 1178.8,130.8 1180.9,130.1 1182.9,129.5 1185.0,128.9 1187.1,128.2 1189.1,127.6 1191.2,127.0 1193.2,126.3 1195.3,125.7 1197.4,125.1 1199.4,124.5 1201.5,123.9 1203.5,123.3 1205.6,122.7 1207.7,122.1 1209.7,121.5 1211.8,121.0 1213.8,120.4 1215.9,119.8 1218.0,119.2 1220.0,118.7 1222.1,118.1 1224.2,117.6 1226.2,117.0 1228.3,116.5 1230.3,115.9 1232.4,115.4 1234.5,114.8 1236.5,114.3 1238.6,113.8 1240.6,113.3 1242.7,112.7 1244.8,112.2 1246.8,111.7 1248.9,111.2 1251.0,110.7 1253.0,110.2 1255.1,109.7 1257.1,109.2 1259.2,108.7 1261.3,108.2 1263.3,107.8 1265.4,107.3 1267.4,106.8 1269.5,106.3 1271.6,105.9 1273.6,105.4 1275.7,105.0 1277.8,104.5 1279.8,104.0 1281.9,103.6 1283.9,103.1 1286.0,102.7 1288.1,102.3 1290.1,101.8 1292.2,101.4 1294.2,101.0 1296.3,100.5 1298.4,100.1 1300.4,99.7 1302.5,99.3 1304.5,98.9 1306.6,98.4 1308.7,98.0 1310.7,97.6 1312.8,97.2 1314.9,96.8 1316.9,96.4 1319.0,96.0 1321.0,95.7 1323.1,95.3 1325.2,94.9 1327.2,94.5 1329.3,94.1 1331.3,93.7 1333.4,93.4 1335.5,93.0 1337.5,92.6 1339.6,92.3 1341.7,91.9 1343.7,91.6 1345.8,91.2 1347.8,90.8 1349.9,90.5 1352.0,90.1 1354.0,89.8 1356.1,89.5 1358.1,89.1 1360.2,88.8 1362.3,88.4 1364.3,88.1 1366.4,87.8 1368.4,87.4 1370.5,87.1 1372.6,86.8 1374.6,86.5 1376.7,86.2 1378.8,85.8 1380.8,85.5 1382.9,85.2 1384.9,84.9 1387.0,84.6 1389.1,84.3 1391.1,84.0 1393.2,83.7 1395.2,83.4 1397.3,83.1 1399.4,82.8 1401.4,82.5 1403.5,82.2 1405.6,81.9 1407.6,81.7 1409.7,81.4 1411.7,81.1 1413.8,80.8 1415.9,80.5 1417.9,80.3 1420.0,80.0 1422.0,79.7 1424.1,79.5 1426.2,79.2 1428.2,78.9 1430.3,78.7 1432.3,78.4 1434.4,78.1 1436.5,77.9 1438.5,77.6 1440.6,77.4 1442.7,77.1 1444.7,76.9 1446.8,76.6 1448.8,76.4 1450.9,76.1 1453.0,75.9 1455.0,75.7 1457.1,75.4 1459.1,75.2 1461.2,75.0 1463.3,74.7 1465.3,74.5 1467.4,74.3 1469.5,74.0 1471.5,73.8 1473.6,73.6 1475.6,73.4 1477.7,73.1 1479.8,72.9 1481.8,72.7 1483.9,72.5 1485.9,72.3 1488.0,72.1 1490.1,71.9 1492.1,71.7 1494.2,71.4 1496.3,71.2 1498.3,71.0 1500.4,70.8 1502.4,70.6 1504.5,70.4 1506.6,70.2 1508.6,70.0 1510.7,69.8 1512.7,69.6 1514.8,69.5 1516.9,69.3 1518.9,69.1 1521.0,68.9 1523.0,68.7 1525.1,68.5 1527.2,68.3 1529.2,68.1 1531.3,68.0 1533.4,67.8 1535.4,67.6 1537.5,67.4 1539.5,67.2 1541.6,67.1 1543.7,66.9 1545.7,66.7 1547.8,66.6 1549.8,66.4 1551.9,66.2 1554.0,66.1 1556.0,65.9 1558.1,65.7 1560.2,65.6 1562.2,65.4 1564.3,65.2 1566.3,65.1 1568.4,64.9 1570.5,64.8 1572.5,64.6 1574.6,64.5 1576.6,64.3 1578.7,64.1 1580.8,64.0 1582.8,63.8 1584.9,63.7 1586.9,63.5 1589.0,63.4 1591.1,63.3 1593.1,63.1 1595.2,63.0 1597.3,62.8 1599.3,62.7 1601.4,62.5 1603.4,62.4 1605.5,62.3 1607.6,62.1 1609.6,62.0 1611.7,61.9 1613.7,61.7 1615.8,61.6 1617.9,61.5 1619.9,61.3 1622.0,61.2 1624.1,61.1 1626.1,60.9 1628.2,60.8 1630.2,60.7 1632.3,60.6 1634.4,60.4 1636.4,60.3 1638.5,60.2 1640.5,60.1 1642.6,59.9 1644.7,59.8 1646.7,59.7 1648.8,59.6 1650.9,59.5 1652.9,59.3 1655.0,59.2 1657.0,59.1 1659.1,59.0 1661.2,58.9 1663.2,58.8 1665.3,58.7 1667.3,58.6 1669.4,58.4 1671.5,58.3 1673.5,58.2 1675.6,58.1 1677.6,58.0 1679.7,57.9 1681.8,57.8 1683.8,57.7 1685.9,57.6 1688.0,57.5 1690.0,57.4 1692.1,57.3 1694.1,57.2 1696.2,57.1 1698.3,57.0 1700.3,56.9 1702.4,56.8 1704.4,56.7 1706.5,56.6 1708.6,56.5 1710.6,56.4 1712.7,56.3 1714.8,56.2 1716.8,56.1 1718.9,56.0 1720.9,56.0 1723.0,55.9 1725.1,55.8 1727.1,55.7 1729.2,55.6 1731.2,55.5 1733.3,55.4 1735.4,55.3 1737.4,55.3 1739.5,55.2 1741.5,55.1 1743.6,55.0 1745.7,54.9 1747.7,54.8 1749.8,54.8 1751.9,54.7 1753.9,54.6 1756.0,54.5 1758.0,54.4 1760.1,54.4 1762.2,54.3 1764.2,54.2 1766.3,54.1 1768.3,54.0 1770.4,54.0 1772.5,53.9 1774.5,53.8 1776.6,53.7 1778.7,53.7 1780.7,53.6 1782.8,53.5 1784.8,53.5 1786.9,53.4 1789.0,53.3 1791.0,53.2 1793.1,53.2 1795.1,53.1 1797.2,53.0 1799.3,53.0 1801.3,52.9 1803.4,52.8 1805.4,52.8 1807.5,52.7 1809.6,52.6 1811.6,52.6 1813.7,52.5 1815.8,52.4 1817.8,52.4 1819.9,52.3 1821.9,52.2 1824.0,52.2 1826.1,52.1 1828.1,52.1 1830.2,52.0 1832.2,51.9 1834.3,51.9 1836.4,51.8 1838.4,51.8 1840.5,51.7 1842.6,51.6 1844.6,51.6 1846.7,51.5 1848.7,51.5 1850.8,51.4 1852.9,51.4 1854.9,51.3 1857.0,51.2 1859.0,51.2 1861.1,51.1 1863.2,51.1 1865.2,51.0 1867.3,51.0 1869.4,50.9 1871.4,50.9 1873.5,50.8 1875.5,50.8 1877.6,50.7 1879.7,50.7 1881.7,50.6 1883.8,50.6 1885.8,50.5 1887.9,50.5 1890.0,50.4 1892.0,50.4 1894.1,50.3 1896.1,50.3 1898.2,50.2 1900.3,50.2 1902.3,50.1 1904.4,50.1 1906.5,50.0 1908.5,50.0 1910.6,49.9 1912.6,49.9 1914.7,49.9"/>
</g>
<g stroke="#151515" stroke-width="2.3" fill="none">
<path d="M597.1,3004.8V2987.3M597.1,1755.5V1773.0M926.5,3004.8V2987.3M926.5,1755.5V1773.0M1255.9,3004.8V2987.3M1255.9,1755.5V1773.0M1585.3,3004.8V2987.3M1585.3,1755.5V1773.0M267.7,2754.9H285.2M1914.7,2754.9H1897.2M267.7,2505.1H285.2M1914.7,2505.1H1897.2M267.7,2255.2H285.2M1914.7,2255.2H1897.2M267.7,2005.4H285.2M1914.7,2005.4H1897.2"/>
<rect x="267.7" y="1755.5" width="1647.0" height="1249.3"/>
</g>
<g fill="none" stroke-width="15.5" stroke-linejoin="round" stroke-linecap="butt">
<polyline stroke="#0072C0" points="267.7,2951.4 269.8,2950.6 271.8,2949.8 273.9,2949.0 275.9,2948.2 278.0,2947.3 280.1,2946.5 282.1,2945.6 284.2,2944.8 286.3,2943.9 288.3,2943.0 290.4,2942.1 292.4,2941.2 294.5,2940.2 296.6,2939.3 298.6,2938.3 300.7,2937.4 302.7,2936.4 304.8,2935.4 306.9,2934.4 308.9,2933.3 311.0,2932.3 313.0,2931.2 315.1,2930.2 317.2,2929.1 319.2,2928.0 321.3,2926.9 323.4,2925.7 325.4,2924.6 327.5,2923.4 329.5,2922.2 331.6,2921.0 333.7,2919.8 335.7,2918.6 337.8,2917.4 339.8,2916.1 341.9,2914.8 344.0,2913.5 346.0,2912.2 348.1,2910.9 350.2,2909.5 352.2,2908.1 354.3,2906.8 356.3,2905.3 358.4,2903.9 360.5,2902.5 362.5,2901.0 364.6,2899.5 366.6,2898.0 368.7,2896.5 370.8,2895.0 372.8,2893.4 374.9,2891.8 377.0,2890.2 379.0,2888.6 381.1,2886.9 383.1,2885.2 385.2,2883.5 387.3,2881.8 389.3,2880.1 391.4,2878.3 393.4,2876.5 395.5,2874.7 397.6,2872.9 399.6,2871.0 401.7,2869.2 403.7,2867.3 405.8,2865.3 407.9,2863.4 409.9,2861.4 412.0,2859.4 414.1,2857.4 416.1,2855.3 418.2,2853.2 420.2,2851.1 422.3,2849.0 424.4,2846.8 426.4,2844.6 428.5,2842.4 430.5,2840.2 432.6,2837.9 434.7,2835.6 436.7,2833.3 438.8,2830.9 440.9,2828.5 442.9,2826.1 445.0,2823.7 447.0,2821.2 449.1,2818.7 451.2,2816.2 453.2,2813.6 455.3,2811.0 457.3,2808.4 459.4,2805.8 461.5,2803.1 463.5,2800.4 465.6,2797.6 467.6,2794.8 469.7,2792.0 471.8,2789.2 473.8,2786.3 475.9,2783.4 478.0,2780.4 480.0,2777.5 482.1,2774.5 484.1,2771.4 486.2,2768.3 488.3,2765.2 490.3,2762.1 492.4,2758.9 494.4,2755.7 496.5,2752.5 498.6,2749.2 500.6,2745.9 502.7,2742.5 504.8,2739.1 506.8,2735.7 508.9,2732.2 510.9,2728.8 513.0,2725.2 515.1,2721.7 517.1,2718.1 519.2,2714.4 521.2,2710.8 523.3,2707.0 525.4,2703.3 527.4,2699.5 529.5,2695.7 531.5,2691.9 533.6,2688.0 535.7,2684.0 537.7,2680.1 539.8,2676.1 541.9,2672.1 543.9,2668.0 546.0,2663.9 548.0,2659.8 550.1,2655.6 552.2,2651.4 554.2,2647.1 556.3,2642.8 558.3,2638.5 560.4,2634.2 562.5,2629.8 564.5,2625.4 566.6,2620.9 568.7,2616.4 570.7,2611.9 572.8,2607.3 574.8,2602.8 576.9,2598.1 579.0,2593.5 581.0,2588.8 583.1,2584.1 585.1,2579.3 587.2,2574.5 589.3,2569.7 591.3,2564.9 593.4,2560.0 595.5,2555.1 597.5,2550.2 599.6,2545.2 601.6,2540.2 603.7,2535.2 605.8,2530.2 607.8,2525.1 609.9,2520.0 611.9,2514.9 614.0,2509.8 616.1,2504.6 618.1,2499.4 620.2,2494.2 622.2,2489.0 624.3,2483.8 626.4,2478.5 628.4,2473.2 630.5,2467.9 632.6,2462.6 634.6,2457.3 636.7,2451.9 638.7,2446.6 640.8,2441.2 642.9,2435.9 644.9,2430.5 647.0,2425.1 649.0,2419.7 651.1,2414.3 653.2,2408.9 655.2,2403.5 657.3,2398.0 659.4,2392.6 661.4,2387.2 663.5,2381.8 665.5,2376.4 667.6,2371.0 669.7,2365.6 671.7,2360.2 673.8,2354.9 675.8,2349.5 677.9,2344.1 680.0,2338.8 682.0,2333.5 684.1,2328.2 686.1,2322.9 688.2,2317.7 690.3,2312.4 692.3,2307.2 694.4,2302.0 696.5,2296.9 698.5,2291.8 700.6,2286.7 702.6,2281.6 704.7,2276.6 706.8,2271.6 708.8,2266.7 710.9,2261.8 712.9,2257.0 715.0,2252.2 717.1,2247.4 719.1,2242.7 721.2,2238.1 723.3,2233.5 725.3,2228.9 727.4,2224.5 729.4,2220.0 731.5,2215.7 733.6,2211.4 735.6,2207.2 737.7,2203.0 739.7,2199.0 741.8,2195.0 743.9,2191.0 745.9,2187.2 748.0,2183.4 750.1,2179.7 752.1,2176.1 754.2,2172.6 756.2,2169.2 758.3,2165.8 760.4,2162.6 762.4,2159.4 764.5,2156.4 766.5,2153.4 768.6,2150.6 770.7,2147.8 772.7,2145.2 774.8,2142.6 776.8,2140.2 778.9,2137.9 781.0,2135.7 783.0,2133.5 785.1,2131.6 787.2,2129.7 789.2,2127.9 791.3,2126.3 793.3,2124.8 795.4,2123.4 797.5,2122.1 799.5,2121.0 801.6,2119.9 803.6,2119.1 805.7,2118.3 807.8,2117.7 809.8,2117.1 811.9,2116.8 814.0,2116.5 816.0,2116.4 818.1,2116.4 820.1,2116.6 822.2,2116.9 824.3,2117.3 826.3,2117.9 828.4,2118.6 830.4,2119.4 832.5,2120.4 834.6,2121.5 836.6,2122.7 838.7,2124.1 840.7,2125.6 842.8,2127.3 844.9,2129.1 846.9,2131.0 849.0,2133.0 851.1,2135.2 853.1,2137.6 855.2,2140.0 857.2,2142.6 859.3,2145.4 861.4,2148.2 863.4,2151.2 865.5,2154.3 867.5,2157.6 869.6,2160.9 871.7,2164.4 873.7,2168.1 875.8,2171.8 877.9,2175.7 879.9,2179.7 882.0,2183.8 884.0,2188.0 886.1,2192.3 888.2,2196.8 890.2,2201.3 892.3,2206.0 894.3,2210.7 896.4,2215.6 898.5,2220.6 900.5,2225.7 902.6,2230.9 904.6,2236.1 906.7,2241.5 908.8,2247.0 910.8,2252.5 912.9,2258.1 915.0,2263.8 917.0,2269.6 919.1,2275.5 921.1,2281.5 923.2,2287.5 925.3,2293.6 927.3,2299.7 929.4,2305.9 931.4,2312.2 933.5,2318.6 935.6,2325.0 937.6,2331.4 939.7,2337.9 941.8,2344.5 943.8,2351.1 945.9,2357.7 947.9,2364.4 950.0,2371.1 952.1,2377.8 954.1,2384.6 956.2,2391.4 958.2,2398.3 960.3,2405.1 962.4,2412.0 964.4,2418.9 966.5,2425.8 968.6,2432.7 970.6,2439.6 972.7,2446.6 974.7,2453.5 976.8,2460.4 978.9,2467.4 980.9,2474.3 983.0,2481.2 985.0,2488.1 987.1,2495.1 989.2,2501.9 991.2,2508.8 993.3,2515.7 995.3,2522.5 997.4,2529.3 999.5,2536.1 1001.5,2542.9 1003.6,2549.6 1005.7,2556.3 1007.7,2563.0 1009.8,2569.7 1011.8,2576.3 1013.9,2582.8 1016.0,2589.4 1018.0,2595.9 1020.1,2602.3 1022.1,2608.7 1024.2,2615.1 1026.3,2621.4 1028.3,2627.6 1030.4,2633.8 1032.5,2640.0 1034.5,2646.1 1036.6,2652.2 1038.6,2658.2 1040.7,2664.1 1042.8,2670.0 1044.8,2675.8 1046.9,2681.6 1048.9,2687.3 1051.0,2693.0 1053.1,2698.6 1055.1,2704.1 1057.2,2709.6 1059.2,2715.0 1061.3,2720.3 1063.4,2725.6 1065.4,2730.9 1067.5,2736.0 1069.6,2741.1 1071.6,2746.1 1073.7,2751.1 1075.7,2756.0 1077.8,2760.8 1079.9,2765.6 1081.9,2770.3 1084.0,2774.9 1086.0,2779.5 1088.1,2784.0 1090.2,2788.5 1092.2,2792.8 1094.3,2797.2 1096.4,2801.4 1098.4,2805.6 1100.5,2809.7 1102.5,2813.8 1104.6,2817.7 1106.7,2821.7 1108.7,2825.5 1110.8,2829.3 1112.8,2833.1 1114.9,2836.7 1117.0,2840.4 1119.0,2843.9 1121.1,2847.4 1123.2,2850.8 1125.2,2854.2 1127.3,2857.5 1129.3,2860.8 1131.4,2864.0 1133.5,2867.1 1135.5,2870.2 1137.6,2873.2 1139.6,2876.2 1141.7,2879.1 1143.8,2881.9 1145.8,2884.7 1147.9,2887.5 1149.9,2890.2 1152.0,2892.8 1154.1,2895.4 1156.1,2897.9 1158.2,2900.4 1160.3,2902.9 1162.3,2905.3 1164.4,2907.6 1166.4,2909.9 1168.5,2912.1 1170.6,2914.4 1172.6,2916.5 1174.7,2918.6 1176.7,2920.7 1178.8,2922.7 1180.9,2924.7 1182.9,2926.6 1185.0,2928.5 1187.1,2930.4 1189.1,2932.2 1191.2,2934.0 1193.2,2935.7 1195.3,2937.4 1197.4,2939.1 1199.4,2940.7 1201.5,2942.3 1203.5,2943.9 1205.6,2945.4 1207.7,2946.9 1209.7,2948.3 1211.8,2949.7 1213.8,2951.1 1215.9,2952.5 1218.0,2953.8 1220.0,2955.1 1222.1,2956.4 1224.2,2957.6 1226.2,2958.8 1228.3,2960.0 1230.3,2961.1 1232.4,2962.3 1234.5,2963.3 1236.5,2964.4 1238.6,2965.5 1240.6,2966.5 1242.7,2967.5 1244.8,2968.4 1246.8,2969.4 1248.9,2970.3 1251.0,2971.2 1253.0,2972.1 1255.1,2973.0 1257.1,2973.8 1259.2,2974.6 1261.3,2975.4 1263.3,2976.2 1265.4,2976.9 1267.4,2977.7 1269.5,2978.4 1271.6,2979.1 1273.6,2979.8 1275.7,2980.5 1277.8,2981.1 1279.8,2981.7 1281.9,2982.4 1283.9,2983.0 1286.0,2983.5 1288.1,2984.1 1290.1,2984.7 1292.2,2985.2 1294.2,2985.8 1296.3,2986.3 1298.4,2986.8 1300.4,2987.3 1302.5,2987.7 1304.5,2988.2 1306.6,2988.7 1308.7,2989.1 1310.7,2989.5 1312.8,2989.9 1314.9,2990.3 1316.9,2990.7 1319.0,2991.1 1321.0,2991.5 1323.1,2991.9 1325.2,2992.2 1327.2,2992.6 1329.3,2992.9 1331.3,2993.2 1333.4,2993.6 1335.5,2993.9 1337.5,2994.2 1339.6,2994.5 1341.7,2994.8 1343.7,2995.0 1345.8,2995.3 1347.8,2995.6 1349.9,2995.8 1352.0,2996.1 1354.0,2996.3 1356.1,2996.6 1358.1,2996.8 1360.2,2997.0 1362.3,2997.2 1364.3,2997.4 1366.4,2997.6 1368.4,2997.8 1370.5,2998.0 1372.6,2998.2 1374.6,2998.4 1376.7,2998.6 1378.8,2998.8 1380.8,2998.9 1382.9,2999.1 1384.9,2999.3 1387.0,2999.4 1389.1,2999.6 1391.1,2999.7 1393.2,2999.9 1395.2,3000.0 1397.3,3000.1 1399.4,3000.3 1401.4,3000.4 1403.5,3000.5 1405.6,3000.6 1407.6,3000.8 1409.7,3000.9 1411.7,3001.0 1413.8,3001.1 1415.9,3001.2 1417.9,3001.3 1420.0,3001.4 1422.0,3001.5 1424.1,3001.6 1426.2,3001.7 1428.2,3001.8 1430.3,3001.9 1432.3,3002.0 1434.4,3002.0 1436.5,3002.1 1438.5,3002.2 1440.6,3002.3 1442.7,3002.3 1444.7,3002.4 1446.8,3002.5 1448.8,3002.5 1450.9,3002.6 1453.0,3002.7 1455.0,3002.7 1457.1,3002.8 1459.1,3002.8 1461.2,3002.9 1463.3,3003.0 1465.3,3003.0 1467.4,3003.1 1469.5,3003.1 1471.5,3003.2 1473.6,3003.2 1475.6,3003.3 1477.7,3003.3 1479.8,3003.3 1481.8,3003.4 1483.9,3003.4 1485.9,3003.5 1488.0,3003.5 1490.1,3003.5 1492.1,3003.6 1494.2,3003.6 1496.3,3003.6 1498.3,3003.7 1500.4,3003.7 1502.4,3003.7 1504.5,3003.8 1506.6,3003.8 1508.6,3003.8 1510.7,3003.9 1512.7,3003.9 1514.8,3003.9 1516.9,3003.9 1518.9,3004.0 1521.0,3004.0 1523.0,3004.0 1525.1,3004.0 1527.2,3004.1 1529.2,3004.1 1531.3,3004.1 1533.4,3004.1 1535.4,3004.1 1537.5,3004.2 1539.5,3004.2 1541.6,3004.2 1543.7,3004.2 1545.7,3004.2 1547.8,3004.2 1549.8,3004.3 1551.9,3004.3 1554.0,3004.3 1556.0,3004.3 1558.1,3004.3 1560.2,3004.3 1562.2,3004.4 1564.3,3004.4 1566.3,3004.4 1568.4,3004.4 1570.5,3004.4 1572.5,3004.4 1574.6,3004.4 1576.6,3004.4 1578.7,3004.4 1580.8,3004.5 1582.8,3004.5 1584.9,3004.5 1586.9,3004.5 1589.0,3004.5 1591.1,3004.5 1593.1,3004.5 1595.2,3004.5 1597.3,3004.5 1599.3,3004.5 1601.4,3004.5 1603.4,3004.6 1605.5,3004.6 1607.6,3004.6 1609.6,3004.6 1611.7,3004.6 1613.7,3004.6 1615.8,3004.6 1617.9,3004.6 1619.9,3004.6 1622.0,3004.6 1624.1,3004.6 1626.1,3004.6 1628.2,3004.6 1630.2,3004.6 1632.3,3004.6 1634.4,3004.6 1636.4,3004.6 1638.5,3004.7 1640.5,3004.7 1642.6,3004.7 1644.7,3004.7 1646.7,3004.7 1648.8,3004.7 1650.9,3004.7 1652.9,3004.7 1655.0,3004.7 1657.0,3004.7 1659.1,3004.7 1661.2,3004.7 1663.2,3004.7 1665.3,3004.7 1667.3,3004.7 1669.4,3004.7 1671.5,3004.7 1673.5,3004.7 1675.6,3004.7 1677.6,3004.7 1679.7,3004.7 1681.8,3004.7 1683.8,3004.7 1685.9,3004.7 1688.0,3004.7 1690.0,3004.7 1692.1,3004.7 1694.1,3004.7 1696.2,3004.7 1698.3,3004.7 1700.3,3004.7 1702.4,3004.7 1704.4,3004.7 1706.5,3004.7 1708.6,3004.7 1710.6,3004.7 1712.7,3004.7 1714.8,3004.8 1716.8,3004.8 1718.9,3004.8 1720.9,3004.8 1723.0,3004.8 1725.1,3004.8 1727.1,3004.8 1729.2,3004.8 1731.2,3004.8 1733.3,3004.8 1735.4,3004.8 1737.4,3004.8 1739.5,3004.8 1741.5,3004.8 1743.6,3004.8 1745.7,3004.8 1747.7,3004.8 1749.8,3004.8 1751.9,3004.8 1753.9,3004.8 1756.0,3004.8 1758.0,3004.8 1760.1,3004.8 1762.2,3004.8 1764.2,3004.8 1766.3,3004.8 1768.3,3004.8 1770.4,3004.8 1772.5,3004.8 1774.5,3004.8 1776.6,3004.8 1778.7,3004.8 1780.7,3004.8 1782.8,3004.8 1784.8,3004.8 1786.9,3004.8 1789.0,3004.8 1791.0,3004.8 1793.1,3004.8 1795.1,3004.8 1797.2,3004.8 1799.3,3004.8 1801.3,3004.8 1803.4,3004.8 1805.4,3004.8 1807.5,3004.8 1809.6,3004.8 1811.6,3004.8 1813.7,3004.8 1815.8,3004.8 1817.8,3004.8 1819.9,3004.8 1821.9,3004.8 1824.0,3004.8 1826.1,3004.8 1828.1,3004.8 1830.2,3004.8 1832.2,3004.8 1834.3,3004.8 1836.4,3004.8 1838.4,3004.8 1840.5,3004.8 1842.6,3004.8 1844.6,3004.8 1846.7,3004.8 1848.7,3004.8 1850.8,3004.8 1852.9,3004.8 1854.9,3004.8 1857.0,3004.8 1859.0,3004.8 1861.1,3004.8 1863.2,3004.8 1865.2,3004.8 1867.3,3004.8 1869.4,3004.8 1871.4,3004.8 1873.5,3004.8 1875.5,3004.8 1877.6,3004.8 1879.7,3004.8 1881.7,3004.8 1883.8,3004.8 1885.8,3004.8 1887.9,3004.8 1890.0,3004.8 1892.0,3004.8 1894.1,3004.8 1896.1,3004.8 1898.2,3004.8 1900.3,3004.8 1902.3,3004.8 1904.4,3004.8 1906.5,3004.8 1908.5,3004.8 1910.6,3004.8 1912.6,3004.8 1914.7,3004.8"/>
<polyline stroke="#F9530A" points="267.7,2951.8 269.8,2951.1 271.8,2950.3 273.9,2949.5 275.9,2948.7 278.0,2947.9 280.1,2947.0 282.1,2946.2 284.2,2945.4 286.3,2944.5 288.3,2943.6 290.4,2942.7 292.4,2941.8 294.5,2940.9 296.6,2940.0 298.6,2939.1 300.7,2938.1 302.7,2937.1 304.8,2936.2 306.9,2935.2 308.9,2934.2 311.0,2933.2 313.0,2932.1 315.1,2931.1 317.2,2930.0 319.2,2929.0 321.3,2927.9 323.4,2926.8 325.4,2925.7 327.5,2924.5 329.5,2923.4 331.6,2922.2 333.7,2921.0 335.7,2919.8 337.8,2918.6 339.8,2917.4 341.9,2916.2 344.0,2914.9 346.0,2913.6 348.1,2912.3 350.2,2911.0 352.2,2909.7 354.3,2908.4 356.3,2907.0 358.4,2905.6 360.5,2904.2 362.5,2902.8 364.6,2901.4 366.6,2899.9 368.7,2898.5 370.8,2897.0 372.8,2895.5 374.9,2893.9 377.0,2892.4 379.0,2890.8 381.1,2889.2 383.1,2887.6 385.2,2886.0 387.3,2884.4 389.3,2882.7 391.4,2881.0 393.4,2879.3 395.5,2877.6 397.6,2875.8 399.6,2874.0 401.7,2872.2 403.7,2870.4 405.8,2868.6 407.9,2866.7 409.9,2864.8 412.0,2862.9 414.1,2861.0 416.1,2859.0 418.2,2857.1 420.2,2855.1 422.3,2853.0 424.4,2851.0 426.4,2848.9 428.5,2846.8 430.5,2844.7 432.6,2842.6 434.7,2840.4 436.7,2838.2 438.8,2836.0 440.9,2833.7 442.9,2831.5 445.0,2829.2 447.0,2826.8 449.1,2824.5 451.2,2822.1 453.2,2819.7 455.3,2817.3 457.3,2814.9 459.4,2812.4 461.5,2809.9 463.5,2807.3 465.6,2804.8 467.6,2802.2 469.7,2799.6 471.8,2796.9 473.8,2794.3 475.9,2791.6 478.0,2788.9 480.0,2786.1 482.1,2783.3 484.1,2780.5 486.2,2777.7 488.3,2774.8 490.3,2771.9 492.4,2769.0 494.4,2766.1 496.5,2763.1 498.6,2760.1 500.6,2757.1 502.7,2754.0 504.8,2750.9 506.8,2747.8 508.9,2744.7 510.9,2741.5 513.0,2738.3 515.1,2735.1 517.1,2731.8 519.2,2728.5 521.2,2725.2 523.3,2721.9 525.4,2718.5 527.4,2715.1 529.5,2711.7 531.5,2708.2 533.6,2704.8 535.7,2701.3 537.7,2697.7 539.8,2694.2 541.9,2690.6 543.9,2687.0 546.0,2683.4 548.0,2679.7 550.1,2676.0 552.2,2672.3 554.2,2668.6 556.3,2664.8 558.3,2661.0 560.4,2657.2 562.5,2653.4 564.5,2649.5 566.6,2645.6 568.7,2641.7 570.7,2637.8 572.8,2633.8 574.8,2629.9 576.9,2625.9 579.0,2621.9 581.0,2617.8 583.1,2613.8 585.1,2609.7 587.2,2605.6 589.3,2601.5 591.3,2597.4 593.4,2593.2 595.5,2589.1 597.5,2584.9 599.6,2580.7 601.6,2576.5 603.7,2572.3 605.8,2568.1 607.8,2563.8 609.9,2559.6 611.9,2555.3 614.0,2551.0 616.1,2546.7 618.1,2542.4 620.2,2538.1 622.2,2533.8 624.3,2529.5 626.4,2525.2 628.4,2520.9 630.5,2516.5 632.6,2512.2 634.6,2507.9 636.7,2503.5 638.7,2499.2 640.8,2494.9 642.9,2490.6 644.9,2486.2 647.0,2481.9 649.0,2477.6 651.1,2473.3 653.2,2469.0 655.2,2464.7 657.3,2460.4 659.4,2456.1 661.4,2451.9 663.5,2447.6 665.5,2443.4 667.6,2439.2 669.7,2435.0 671.7,2430.8 673.8,2426.6 675.8,2422.5 677.9,2418.4 680.0,2414.3 682.0,2410.2 684.1,2406.2 686.1,2402.1 688.2,2398.1 690.3,2394.2 692.3,2390.2 694.4,2386.3 696.5,2382.5 698.5,2378.6 700.6,2374.8 702.6,2371.1 704.7,2367.4 706.8,2363.7 708.8,2360.0 710.9,2356.4 712.9,2352.9 715.0,2349.4 717.1,2345.9 719.1,2342.5 721.2,2339.1 723.3,2335.8 725.3,2332.5 727.4,2329.3 729.4,2326.1 731.5,2323.0 733.6,2320.0 735.6,2317.0 737.7,2314.1 739.7,2311.2 741.8,2308.4 743.9,2305.6 745.9,2302.9 748.0,2300.3 750.1,2297.7 752.1,2295.2 754.2,2292.8 756.2,2290.4 758.3,2288.2 760.4,2285.9 762.4,2283.8 764.5,2281.7 766.5,2279.7 768.6,2277.8 770.7,2275.9 772.7,2274.1 774.8,2272.4 776.8,2270.8 778.9,2269.2 781.0,2267.8 783.0,2266.4 785.1,2265.1 787.2,2263.8 789.2,2262.7 791.3,2261.6 793.3,2260.6 795.4,2259.7 797.5,2258.9 799.5,2258.1 801.6,2257.5 803.6,2256.9 805.7,2256.4 807.8,2256.0 809.8,2255.7 811.9,2255.5 814.0,2255.3 816.0,2255.2 818.1,2255.2 820.1,2255.3 822.2,2255.5 824.3,2255.8 826.3,2256.1 828.4,2256.6 830.4,2257.1 832.5,2257.7 834.6,2258.4 836.6,2259.2 838.7,2260.0 840.7,2260.9 842.8,2262.0 844.9,2263.1 846.9,2264.2 849.0,2265.5 851.1,2266.8 853.1,2268.3 855.2,2269.8 857.2,2271.3 859.3,2273.0 861.4,2274.7 863.4,2276.5 865.5,2278.4 867.5,2280.4 869.6,2282.4 871.7,2284.5 873.7,2286.7 875.8,2288.9 877.9,2291.2 879.9,2293.6 882.0,2296.1 884.0,2298.6 886.1,2301.2 888.2,2303.8 890.2,2306.5 892.3,2309.3 894.3,2312.1 896.4,2315.0 898.5,2318.0 900.5,2321.0 902.6,2324.1 904.6,2327.2 906.7,2330.4 908.8,2333.6 910.8,2336.9 912.9,2340.2 915.0,2343.6 917.0,2347.0 919.1,2350.5 921.1,2354.1 923.2,2357.6 925.3,2361.2 927.3,2364.9 929.4,2368.6 931.4,2372.3 933.5,2376.1 935.6,2379.9 937.6,2383.8 939.7,2387.6 941.8,2391.5 943.8,2395.5 945.9,2399.5 947.9,2403.5 950.0,2407.5 952.1,2411.6 954.1,2415.6 956.2,2419.7 958.2,2423.9 960.3,2428.0 962.4,2432.2 964.4,2436.4 966.5,2440.6 968.6,2444.8 970.6,2449.0 972.7,2453.3 974.7,2457.6 976.8,2461.8 978.9,2466.1 980.9,2470.4 983.0,2474.7 985.0,2479.0 987.1,2483.3 989.2,2487.7 991.2,2492.0 993.3,2496.3 995.3,2500.7 997.4,2505.0 999.5,2509.3 1001.5,2513.7 1003.6,2518.0 1005.7,2522.3 1007.7,2526.6 1009.8,2531.0 1011.8,2535.3 1013.9,2539.6 1016.0,2543.9 1018.0,2548.2 1020.1,2552.4 1022.1,2556.7 1024.2,2561.0 1026.3,2565.2 1028.3,2569.5 1030.4,2573.7 1032.5,2577.9 1034.5,2582.1 1036.6,2586.3 1038.6,2590.5 1040.7,2594.6 1042.8,2598.8 1044.8,2602.9 1046.9,2607.0 1048.9,2611.1 1051.0,2615.1 1053.1,2619.2 1055.1,2623.2 1057.2,2627.2 1059.2,2631.2 1061.3,2635.2 1063.4,2639.1 1065.4,2643.0 1067.5,2646.9 1069.6,2650.8 1071.6,2654.6 1073.7,2658.5 1075.7,2662.3 1077.8,2666.0 1079.9,2669.8 1081.9,2673.5 1084.0,2677.2 1086.0,2680.9 1088.1,2684.6 1090.2,2688.2 1092.2,2691.8 1094.3,2695.4 1096.4,2698.9 1098.4,2702.4 1100.5,2705.9 1102.5,2709.4 1104.6,2712.8 1106.7,2716.2 1108.7,2719.6 1110.8,2723.0 1112.8,2726.3 1114.9,2729.6 1117.0,2732.9 1119.0,2736.1 1121.1,2739.4 1123.2,2742.6 1125.2,2745.7 1127.3,2748.8 1129.3,2752.0 1131.4,2755.0 1133.5,2758.1 1135.5,2761.1 1137.6,2764.1 1139.6,2767.1 1141.7,2770.0 1143.8,2772.9 1145.8,2775.8 1147.9,2778.6 1149.9,2781.5 1152.0,2784.3 1154.1,2787.0 1156.1,2789.8 1158.2,2792.5 1160.3,2795.2 1162.3,2797.8 1164.4,2800.5 1166.4,2803.1 1168.5,2805.6 1170.6,2808.2 1172.6,2810.7 1174.7,2813.2 1176.7,2815.7 1178.8,2818.1 1180.9,2820.5 1182.9,2822.9 1185.0,2825.3 1187.1,2827.6 1189.1,2829.9 1191.2,2832.2 1193.2,2834.5 1195.3,2836.7 1197.4,2838.9 1199.4,2841.1 1201.5,2843.3 1203.5,2845.4 1205.6,2847.5 1207.7,2849.6 1209.7,2851.7 1211.8,2853.7 1213.8,2855.7 1215.9,2857.7 1218.0,2859.7 1220.0,2861.6 1222.1,2863.6 1224.2,2865.5 1226.2,2867.3 1228.3,2869.2 1230.3,2871.0 1232.4,2872.8 1234.5,2874.6 1236.5,2876.4 1238.6,2878.1 1240.6,2879.9 1242.7,2881.6 1244.8,2883.2 1246.8,2884.9 1248.9,2886.5 1251.0,2888.2 1253.0,2889.8 1255.1,2891.3 1257.1,2892.9 1259.2,2894.4 1261.3,2896.0 1263.3,2897.5 1265.4,2898.9 1267.4,2900.4 1269.5,2901.9 1271.6,2903.3 1273.6,2904.7 1275.7,2906.1 1277.8,2907.5 1279.8,2908.8 1281.9,2910.1 1283.9,2911.5 1286.0,2912.8 1288.1,2914.1 1290.1,2915.3 1292.2,2916.6 1294.2,2917.8 1296.3,2919.0 1298.4,2920.2 1300.4,2921.4 1302.5,2922.6 1304.5,2923.8 1306.6,2924.9 1308.7,2926.0 1310.7,2927.1 1312.8,2928.2 1314.9,2929.3 1316.9,2930.4 1319.0,2931.4 1321.0,2932.5 1323.1,2933.5 1325.2,2934.5 1327.2,2935.5 1329.3,2936.5 1331.3,2937.5 1333.4,2938.4 1335.5,2939.4 1337.5,2940.3 1339.6,2941.2 1341.7,2942.1 1343.7,2943.0 1345.8,2943.9 1347.8,2944.8 1349.9,2945.6 1352.0,2946.5 1354.0,2947.3 1356.1,2948.1 1358.1,2949.0 1360.2,2949.8 1362.3,2950.5 1364.3,2951.3 1366.4,2952.1 1368.4,2952.9 1370.5,2953.6 1372.6,2954.3 1374.6,2955.1 1376.7,2955.8 1378.8,2956.5 1380.8,2957.2 1382.9,2957.9 1384.9,2958.6 1387.0,2959.2 1389.1,2959.9 1391.1,2960.5 1393.2,2961.2 1395.2,2961.8 1397.3,2962.4 1399.4,2963.0 1401.4,2963.6 1403.5,2964.2 1405.6,2964.8 1407.6,2965.4 1409.7,2966.0 1411.7,2966.5 1413.8,2967.1 1415.9,2967.6 1417.9,2968.2 1420.0,2968.7 1422.0,2969.2 1424.1,2969.8 1426.2,2970.3 1428.2,2970.8 1430.3,2971.3 1432.3,2971.8 1434.4,2972.2 1436.5,2972.7 1438.5,2973.2 1440.6,2973.6 1442.7,2974.1 1444.7,2974.5 1446.8,2975.0 1448.8,2975.4 1450.9,2975.9 1453.0,2976.3 1455.0,2976.7 1457.1,2977.1 1459.1,2977.5 1461.2,2977.9 1463.3,2978.3 1465.3,2978.7 1467.4,2979.1 1469.5,2979.5 1471.5,2979.8 1473.6,2980.2 1475.6,2980.5 1477.7,2980.9 1479.8,2981.3 1481.8,2981.6 1483.9,2981.9 1485.9,2982.3 1488.0,2982.6 1490.1,2982.9 1492.1,2983.3 1494.2,2983.6 1496.3,2983.9 1498.3,2984.2 1500.4,2984.5 1502.4,2984.8 1504.5,2985.1 1506.6,2985.4 1508.6,2985.7 1510.7,2985.9 1512.7,2986.2 1514.8,2986.5 1516.9,2986.8 1518.9,2987.0 1521.0,2987.3 1523.0,2987.6 1525.1,2987.8 1527.2,2988.1 1529.2,2988.3 1531.3,2988.5 1533.4,2988.8 1535.4,2989.0 1537.5,2989.3 1539.5,2989.5 1541.6,2989.7 1543.7,2989.9 1545.7,2990.2 1547.8,2990.4 1549.8,2990.6 1551.9,2990.8 1554.0,2991.0 1556.0,2991.2 1558.1,2991.4 1560.2,2991.6 1562.2,2991.8 1564.3,2992.0 1566.3,2992.2 1568.4,2992.4 1570.5,2992.5 1572.5,2992.7 1574.6,2992.9 1576.6,2993.1 1578.7,2993.3 1580.8,2993.4 1582.8,2993.6 1584.9,2993.8 1586.9,2993.9 1589.0,2994.1 1591.1,2994.2 1593.1,2994.4 1595.2,2994.6 1597.3,2994.7 1599.3,2994.9 1601.4,2995.0 1603.4,2995.1 1605.5,2995.3 1607.6,2995.4 1609.6,2995.6 1611.7,2995.7 1613.7,2995.8 1615.8,2996.0 1617.9,2996.1 1619.9,2996.2 1622.0,2996.4 1624.1,2996.5 1626.1,2996.6 1628.2,2996.7 1630.2,2996.9 1632.3,2997.0 1634.4,2997.1 1636.4,2997.2 1638.5,2997.3 1640.5,2997.4 1642.6,2997.5 1644.7,2997.6 1646.7,2997.7 1648.8,2997.9 1650.9,2998.0 1652.9,2998.1 1655.0,2998.2 1657.0,2998.3 1659.1,2998.4 1661.2,2998.4 1663.2,2998.5 1665.3,2998.6 1667.3,2998.7 1669.4,2998.8 1671.5,2998.9 1673.5,2999.0 1675.6,2999.1 1677.6,2999.2 1679.7,2999.2 1681.8,2999.3 1683.8,2999.4 1685.9,2999.5 1688.0,2999.6 1690.0,2999.6 1692.1,2999.7 1694.1,2999.8 1696.2,2999.9 1698.3,2999.9 1700.3,3000.0 1702.4,3000.1 1704.4,3000.2 1706.5,3000.2 1708.6,3000.3 1710.6,3000.4 1712.7,3000.4 1714.8,3000.5 1716.8,3000.6 1718.9,3000.6 1720.9,3000.7 1723.0,3000.7 1725.1,3000.8 1727.1,3000.9 1729.2,3000.9 1731.2,3001.0 1733.3,3001.0 1735.4,3001.1 1737.4,3001.1 1739.5,3001.2 1741.5,3001.3 1743.6,3001.3 1745.7,3001.4 1747.7,3001.4 1749.8,3001.5 1751.9,3001.5 1753.9,3001.6 1756.0,3001.6 1758.0,3001.7 1760.1,3001.7 1762.2,3001.7 1764.2,3001.8 1766.3,3001.8 1768.3,3001.9 1770.4,3001.9 1772.5,3002.0 1774.5,3002.0 1776.6,3002.1 1778.7,3002.1 1780.7,3002.1 1782.8,3002.2 1784.8,3002.2 1786.9,3002.3 1789.0,3002.3 1791.0,3002.3 1793.1,3002.4 1795.1,3002.4 1797.2,3002.4 1799.3,3002.5 1801.3,3002.5 1803.4,3002.5 1805.4,3002.6 1807.5,3002.6 1809.6,3002.6 1811.6,3002.7 1813.7,3002.7 1815.8,3002.7 1817.8,3002.8 1819.9,3002.8 1821.9,3002.8 1824.0,3002.9 1826.1,3002.9 1828.1,3002.9 1830.2,3002.9 1832.2,3003.0 1834.3,3003.0 1836.4,3003.0 1838.4,3003.0 1840.5,3003.1 1842.6,3003.1 1844.6,3003.1 1846.7,3003.2 1848.7,3003.2 1850.8,3003.2 1852.9,3003.2 1854.9,3003.2 1857.0,3003.3 1859.0,3003.3 1861.1,3003.3 1863.2,3003.3 1865.2,3003.4 1867.3,3003.4 1869.4,3003.4 1871.4,3003.4 1873.5,3003.4 1875.5,3003.5 1877.6,3003.5 1879.7,3003.5 1881.7,3003.5 1883.8,3003.5 1885.8,3003.6 1887.9,3003.6 1890.0,3003.6 1892.0,3003.6 1894.1,3003.6 1896.1,3003.6 1898.2,3003.7 1900.3,3003.7 1902.3,3003.7 1904.4,3003.7 1906.5,3003.7 1908.5,3003.7 1910.6,3003.8 1912.6,3003.8 1914.7,3003.8"/>
<polyline stroke="#FEB000" points="267.7,2952.8 269.8,2952.0 271.8,2951.3 273.9,2950.5 275.9,2949.7 278.0,2948.9 280.1,2948.1 282.1,2947.3 284.2,2946.5 286.3,2945.7 288.3,2944.9 290.4,2944.0 292.4,2943.1 294.5,2942.3 296.6,2941.4 298.6,2940.5 300.7,2939.6 302.7,2938.7 304.8,2937.7 306.9,2936.8 308.9,2935.8 311.0,2934.9 313.0,2933.9 315.1,2932.9 317.2,2931.9 319.2,2930.9 321.3,2929.8 323.4,2928.8 325.4,2927.7 327.5,2926.6 329.5,2925.6 331.6,2924.5 333.7,2923.3 335.7,2922.2 337.8,2921.1 339.8,2919.9 341.9,2918.7 344.0,2917.6 346.0,2916.4 348.1,2915.1 350.2,2913.9 352.2,2912.7 354.3,2911.4 356.3,2910.1 358.4,2908.8 360.5,2907.5 362.5,2906.2 364.6,2904.9 366.6,2903.5 368.7,2902.2 370.8,2900.8 372.8,2899.4 374.9,2898.0 377.0,2896.5 379.0,2895.1 381.1,2893.6 383.1,2892.1 385.2,2890.6 387.3,2889.1 389.3,2887.6 391.4,2886.0 393.4,2884.4 395.5,2882.8 397.6,2881.2 399.6,2879.6 401.7,2878.0 403.7,2876.3 405.8,2874.6 407.9,2872.9 409.9,2871.2 412.0,2869.5 414.1,2867.7 416.1,2866.0 418.2,2864.2 420.2,2862.4 422.3,2860.5 424.4,2858.7 426.4,2856.8 428.5,2854.9 430.5,2853.0 432.6,2851.1 434.7,2849.2 436.7,2847.2 438.8,2845.2 440.9,2843.2 442.9,2841.2 445.0,2839.2 447.0,2837.1 449.1,2835.0 451.2,2832.9 453.2,2830.8 455.3,2828.7 457.3,2826.5 459.4,2824.4 461.5,2822.2 463.5,2819.9 465.6,2817.7 467.6,2815.5 469.7,2813.2 471.8,2810.9 473.8,2808.6 475.9,2806.2 478.0,2803.9 480.0,2801.5 482.1,2799.1 484.1,2796.7 486.2,2794.3 488.3,2791.8 490.3,2789.4 492.4,2786.9 494.4,2784.4 496.5,2781.9 498.6,2779.3 500.6,2776.8 502.7,2774.2 504.8,2771.6 506.8,2769.0 508.9,2766.3 510.9,2763.7 513.0,2761.0 515.1,2758.3 517.1,2755.6 519.2,2752.9 521.2,2750.2 523.3,2747.4 525.4,2744.7 527.4,2741.9 529.5,2739.1 531.5,2736.3 533.6,2733.4 535.7,2730.6 537.7,2727.7 539.8,2724.9 541.9,2722.0 543.9,2719.1 546.0,2716.2 548.0,2713.2 550.1,2710.3 552.2,2707.4 554.2,2704.4 556.3,2701.4 558.3,2698.4 560.4,2695.4 562.5,2692.4 564.5,2689.4 566.6,2686.4 568.7,2683.4 570.7,2680.3 572.8,2677.3 574.8,2674.2 576.9,2671.1 579.0,2668.1 581.0,2665.0 583.1,2661.9 585.1,2658.8 587.2,2655.7 589.3,2652.6 591.3,2649.5 593.4,2646.4 595.5,2643.3 597.5,2640.2 599.6,2637.1 601.6,2634.0 603.7,2630.9 605.8,2627.8 607.8,2624.7 609.9,2621.6 611.9,2618.5 614.0,2615.4 616.1,2612.3 618.1,2609.2 620.2,2606.1 622.2,2603.0 624.3,2599.9 626.4,2596.9 628.4,2593.8 630.5,2590.8 632.6,2587.7 634.6,2584.7 636.7,2581.7 638.7,2578.6 640.8,2575.6 642.9,2572.7 644.9,2569.7 647.0,2566.7 649.0,2563.8 651.1,2560.8 653.2,2557.9 655.2,2555.0 657.3,2552.2 659.4,2549.3 661.4,2546.4 663.5,2543.6 665.5,2540.8 667.6,2538.0 669.7,2535.3 671.7,2532.5 673.8,2529.8 675.8,2527.1 677.9,2524.4 680.0,2521.8 682.0,2519.2 684.1,2516.6 686.1,2514.0 688.2,2511.5 690.3,2509.0 692.3,2506.5 694.4,2504.0 696.5,2501.6 698.5,2499.2 700.6,2496.9 702.6,2494.5 704.7,2492.3 706.8,2490.0 708.8,2487.8 710.9,2485.6 712.9,2483.4 715.0,2481.3 717.1,2479.2 719.1,2477.1 721.2,2475.1 723.3,2473.2 725.3,2471.2 727.4,2469.3 729.4,2467.4 731.5,2465.6 733.6,2463.8 735.6,2462.1 737.7,2460.4 739.7,2458.7 741.8,2457.1 743.9,2455.5 745.9,2454.0 748.0,2452.5 750.1,2451.0 752.1,2449.6 754.2,2448.2 756.2,2446.9 758.3,2445.6 760.4,2444.4 762.4,2443.2 764.5,2442.0 766.5,2440.9 768.6,2439.9 770.7,2438.9 772.7,2437.9 774.8,2436.9 776.8,2436.1 778.9,2435.2 781.0,2434.4 783.0,2433.7 785.1,2433.0 787.2,2432.3 789.2,2431.7 791.3,2431.1 793.3,2430.6 795.4,2430.1 797.5,2429.7 799.5,2429.3 801.6,2429.0 803.6,2428.7 805.7,2428.4 807.8,2428.2 809.8,2428.0 811.9,2427.9 814.0,2427.8 816.0,2427.8 818.1,2427.8 820.1,2427.8 822.2,2427.9 824.3,2428.1 826.3,2428.2 828.4,2428.5 830.4,2428.7 832.5,2429.0 834.6,2429.4 836.6,2429.8 838.7,2430.2 840.7,2430.7 842.8,2431.2 844.9,2431.7 846.9,2432.3 849.0,2432.9 851.1,2433.6 853.1,2434.3 855.2,2435.0 857.2,2435.8 859.3,2436.6 861.4,2437.5 863.4,2438.4 865.5,2439.3 867.5,2440.2 869.6,2441.2 871.7,2442.3 873.7,2443.3 875.8,2444.4 877.9,2445.6 879.9,2446.7 882.0,2447.9 884.0,2449.1 886.1,2450.4 888.2,2451.7 890.2,2453.0 892.3,2454.3 894.3,2455.7 896.4,2457.1 898.5,2458.5 900.5,2460.0 902.6,2461.5 904.6,2463.0 906.7,2464.5 908.8,2466.1 910.8,2467.7 912.9,2469.3 915.0,2470.9 917.0,2472.6 919.1,2474.3 921.1,2476.0 923.2,2477.7 925.3,2479.4 927.3,2481.2 929.4,2483.0 931.4,2484.8 933.5,2486.6 935.6,2488.5 937.6,2490.3 939.7,2492.2 941.8,2494.1 943.8,2496.0 945.9,2498.0 947.9,2499.9 950.0,2501.9 952.1,2503.9 954.1,2505.9 956.2,2507.9 958.2,2509.9 960.3,2511.9 962.4,2514.0 964.4,2516.0 966.5,2518.1 968.6,2520.2 970.6,2522.3 972.7,2524.4 974.7,2526.5 976.8,2528.6 978.9,2530.8 980.9,2532.9 983.0,2535.1 985.0,2537.2 987.1,2539.4 989.2,2541.6 991.2,2543.8 993.3,2545.9 995.3,2548.1 997.4,2550.3 999.5,2552.5 1001.5,2554.8 1003.6,2557.0 1005.7,2559.2 1007.7,2561.4 1009.8,2563.6 1011.8,2565.9 1013.9,2568.1 1016.0,2570.3 1018.0,2572.6 1020.1,2574.8 1022.1,2577.1 1024.2,2579.3 1026.3,2581.5 1028.3,2583.8 1030.4,2586.0 1032.5,2588.3 1034.5,2590.5 1036.6,2592.8 1038.6,2595.0 1040.7,2597.3 1042.8,2599.5 1044.8,2601.7 1046.9,2604.0 1048.9,2606.2 1051.0,2608.4 1053.1,2610.7 1055.1,2612.9 1057.2,2615.1 1059.2,2617.4 1061.3,2619.6 1063.4,2621.8 1065.4,2624.0 1067.5,2626.2 1069.6,2628.4 1071.6,2630.6 1073.7,2632.8 1075.7,2635.0 1077.8,2637.2 1079.9,2639.4 1081.9,2641.6 1084.0,2643.7 1086.0,2645.9 1088.1,2648.1 1090.2,2650.2 1092.2,2652.4 1094.3,2654.5 1096.4,2656.7 1098.4,2658.8 1100.5,2660.9 1102.5,2663.0 1104.6,2665.1 1106.7,2667.3 1108.7,2669.3 1110.8,2671.4 1112.8,2673.5 1114.9,2675.6 1117.0,2677.7 1119.0,2679.7 1121.1,2681.8 1123.2,2683.8 1125.2,2685.9 1127.3,2687.9 1129.3,2689.9 1131.4,2691.9 1133.5,2693.9 1135.5,2695.9 1137.6,2697.9 1139.6,2699.9 1141.7,2701.9 1143.8,2703.9 1145.8,2705.8 1147.9,2707.8 1149.9,2709.7 1152.0,2711.6 1154.1,2713.5 1156.1,2715.5 1158.2,2717.4 1160.3,2719.3 1162.3,2721.1 1164.4,2723.0 1166.4,2724.9 1168.5,2726.8 1170.6,2728.6 1172.6,2730.4 1174.7,2732.3 1176.7,2734.1 1178.8,2735.9 1180.9,2737.7 1182.9,2739.5 1185.0,2741.3 1187.1,2743.1 1189.1,2744.9 1191.2,2746.6 1193.2,2748.4 1195.3,2750.1 1197.4,2751.8 1199.4,2753.6 1201.5,2755.3 1203.5,2757.0 1205.6,2758.7 1207.7,2760.4 1209.7,2762.0 1211.8,2763.7 1213.8,2765.4 1215.9,2767.0 1218.0,2768.6 1220.0,2770.3 1222.1,2771.9 1224.2,2773.5 1226.2,2775.1 1228.3,2776.7 1230.3,2778.3 1232.4,2779.9 1234.5,2781.4 1236.5,2783.0 1238.6,2784.5 1240.6,2786.1 1242.7,2787.6 1244.8,2789.1 1246.8,2790.6 1248.9,2792.1 1251.0,2793.6 1253.0,2795.1 1255.1,2796.6 1257.1,2798.0 1259.2,2799.5 1261.3,2800.9 1263.3,2802.4 1265.4,2803.8 1267.4,2805.2 1269.5,2806.6 1271.6,2808.0 1273.6,2809.4 1275.7,2810.8 1277.8,2812.2 1279.8,2813.6 1281.9,2814.9 1283.9,2816.3 1286.0,2817.6 1288.1,2818.9 1290.1,2820.3 1292.2,2821.6 1294.2,2822.9 1296.3,2824.2 1298.4,2825.5 1300.4,2826.8 1302.5,2828.0 1304.5,2829.3 1306.6,2830.6 1308.7,2831.8 1310.7,2833.1 1312.8,2834.3 1314.9,2835.5 1316.9,2836.7 1319.0,2837.9 1321.0,2839.1 1323.1,2840.3 1325.2,2841.5 1327.2,2842.7 1329.3,2843.9 1331.3,2845.0 1333.4,2846.2 1335.5,2847.3 1337.5,2848.5 1339.6,2849.6 1341.7,2850.7 1343.7,2851.8 1345.8,2853.0 1347.8,2854.1 1349.9,2855.1 1352.0,2856.2 1354.0,2857.3 1356.1,2858.4 1358.1,2859.4 1360.2,2860.5 1362.3,2861.6 1364.3,2862.6 1366.4,2863.6 1368.4,2864.7 1370.5,2865.7 1372.6,2866.7 1374.6,2867.7 1376.7,2868.7 1378.8,2869.7 1380.8,2870.7 1382.9,2871.7 1384.9,2872.6 1387.0,2873.6 1389.1,2874.6 1391.1,2875.5 1393.2,2876.5 1395.2,2877.4 1397.3,2878.3 1399.4,2879.2 1401.4,2880.2 1403.5,2881.1 1405.6,2882.0 1407.6,2882.9 1409.7,2883.8 1411.7,2884.7 1413.8,2885.5 1415.9,2886.4 1417.9,2887.3 1420.0,2888.2 1422.0,2889.0 1424.1,2889.9 1426.2,2890.7 1428.2,2891.5 1430.3,2892.4 1432.3,2893.2 1434.4,2894.0 1436.5,2894.8 1438.5,2895.7 1440.6,2896.5 1442.7,2897.3 1444.7,2898.0 1446.8,2898.8 1448.8,2899.6 1450.9,2900.4 1453.0,2901.2 1455.0,2901.9 1457.1,2902.7 1459.1,2903.4 1461.2,2904.2 1463.3,2904.9 1465.3,2905.7 1467.4,2906.4 1469.5,2907.1 1471.5,2907.8 1473.6,2908.6 1475.6,2909.3 1477.7,2910.0 1479.8,2910.7 1481.8,2911.4 1483.9,2912.1 1485.9,2912.8 1488.0,2913.4 1490.1,2914.1 1492.1,2914.8 1494.2,2915.4 1496.3,2916.1 1498.3,2916.8 1500.4,2917.4 1502.4,2918.1 1504.5,2918.7 1506.6,2919.3 1508.6,2920.0 1510.7,2920.6 1512.7,2921.2 1514.8,2921.8 1516.9,2922.5 1518.9,2923.1 1521.0,2923.7 1523.0,2924.3 1525.1,2924.9 1527.2,2925.5 1529.2,2926.1 1531.3,2926.6 1533.4,2927.2 1535.4,2927.8 1537.5,2928.4 1539.5,2928.9 1541.6,2929.5 1543.7,2930.1 1545.7,2930.6 1547.8,2931.2 1549.8,2931.7 1551.9,2932.3 1554.0,2932.8 1556.0,2933.3 1558.1,2933.9 1560.2,2934.4 1562.2,2934.9 1564.3,2935.4 1566.3,2935.9 1568.4,2936.5 1570.5,2937.0 1572.5,2937.5 1574.6,2938.0 1576.6,2938.5 1578.7,2939.0 1580.8,2939.5 1582.8,2939.9 1584.9,2940.4 1586.9,2940.9 1589.0,2941.4 1591.1,2941.8 1593.1,2942.3 1595.2,2942.8 1597.3,2943.2 1599.3,2943.7 1601.4,2944.2 1603.4,2944.6 1605.5,2945.1 1607.6,2945.5 1609.6,2945.9 1611.7,2946.4 1613.7,2946.8 1615.8,2947.2 1617.9,2947.7 1619.9,2948.1 1622.0,2948.5 1624.1,2948.9 1626.1,2949.4 1628.2,2949.8 1630.2,2950.2 1632.3,2950.6 1634.4,2951.0 1636.4,2951.4 1638.5,2951.8 1640.5,2952.2 1642.6,2952.6 1644.7,2953.0 1646.7,2953.4 1648.8,2953.7 1650.9,2954.1 1652.9,2954.5 1655.0,2954.9 1657.0,2955.2 1659.1,2955.6 1661.2,2956.0 1663.2,2956.3 1665.3,2956.7 1667.3,2957.1 1669.4,2957.4 1671.5,2957.8 1673.5,2958.1 1675.6,2958.5 1677.6,2958.8 1679.7,2959.2 1681.8,2959.5 1683.8,2959.8 1685.9,2960.2 1688.0,2960.5 1690.0,2960.8 1692.1,2961.2 1694.1,2961.5 1696.2,2961.8 1698.3,2962.1 1700.3,2962.5 1702.4,2962.8 1704.4,2963.1 1706.5,2963.4 1708.6,2963.7 1710.6,2964.0 1712.7,2964.3 1714.8,2964.6 1716.8,2964.9 1718.9,2965.2 1720.9,2965.5 1723.0,2965.8 1725.1,2966.1 1727.1,2966.4 1729.2,2966.7 1731.2,2967.0 1733.3,2967.2 1735.4,2967.5 1737.4,2967.8 1739.5,2968.1 1741.5,2968.3 1743.6,2968.6 1745.7,2968.9 1747.7,2969.2 1749.8,2969.4 1751.9,2969.7 1753.9,2970.0 1756.0,2970.2 1758.0,2970.5 1760.1,2970.7 1762.2,2971.0 1764.2,2971.2 1766.3,2971.5 1768.3,2971.7 1770.4,2972.0 1772.5,2972.2 1774.5,2972.5 1776.6,2972.7 1778.7,2973.0 1780.7,2973.2 1782.8,2973.4 1784.8,2973.7 1786.9,2973.9 1789.0,2974.1 1791.0,2974.4 1793.1,2974.6 1795.1,2974.8 1797.2,2975.0 1799.3,2975.3 1801.3,2975.5 1803.4,2975.7 1805.4,2975.9 1807.5,2976.1 1809.6,2976.3 1811.6,2976.6 1813.7,2976.8 1815.8,2977.0 1817.8,2977.2 1819.9,2977.4 1821.9,2977.6 1824.0,2977.8 1826.1,2978.0 1828.1,2978.2 1830.2,2978.4 1832.2,2978.6 1834.3,2978.8 1836.4,2979.0 1838.4,2979.2 1840.5,2979.4 1842.6,2979.6 1844.6,2979.7 1846.7,2979.9 1848.7,2980.1 1850.8,2980.3 1852.9,2980.5 1854.9,2980.7 1857.0,2980.9 1859.0,2981.0 1861.1,2981.2 1863.2,2981.4 1865.2,2981.6 1867.3,2981.7 1869.4,2981.9 1871.4,2982.1 1873.5,2982.2 1875.5,2982.4 1877.6,2982.6 1879.7,2982.7 1881.7,2982.9 1883.8,2983.1 1885.8,2983.2 1887.9,2983.4 1890.0,2983.6 1892.0,2983.7 1894.1,2983.9 1896.1,2984.0 1898.2,2984.2 1900.3,2984.3 1902.3,2984.5 1904.4,2984.6 1906.5,2984.8 1908.5,2984.9 1910.6,2985.1 1912.6,2985.2 1914.7,2985.4"/>
<polyline stroke="#8E2991" points="267.7,2954.5 269.8,2953.8 271.8,2953.1 273.9,2952.4 275.9,2951.7 278.0,2951.0 280.1,2950.2 282.1,2949.5 284.2,2948.7 286.3,2948.0 288.3,2947.2 290.4,2946.4 292.4,2945.6 294.5,2944.8 296.6,2944.0 298.6,2943.2 300.7,2942.3 302.7,2941.5 304.8,2940.6 306.9,2939.8 308.9,2938.9 311.0,2938.0 313.0,2937.1 315.1,2936.2 317.2,2935.3 319.2,2934.4 321.3,2933.4 323.4,2932.5 325.4,2931.5 327.5,2930.6 329.5,2929.6 331.6,2928.6 333.7,2927.6 335.7,2926.6 337.8,2925.6 339.8,2924.5 341.9,2923.5 344.0,2922.4 346.0,2921.4 348.1,2920.3 350.2,2919.2 352.2,2918.1 354.3,2917.0 356.3,2915.8 358.4,2914.7 360.5,2913.6 362.5,2912.4 364.6,2911.2 366.6,2910.0 368.7,2908.8 370.8,2907.6 372.8,2906.4 374.9,2905.2 377.0,2903.9 379.0,2902.7 381.1,2901.4 383.1,2900.1 385.2,2898.8 387.3,2897.5 389.3,2896.2 391.4,2894.9 393.4,2893.6 395.5,2892.2 397.6,2890.8 399.6,2889.5 401.7,2888.1 403.7,2886.7 405.8,2885.2 407.9,2883.8 409.9,2882.4 412.0,2880.9 414.1,2879.5 416.1,2878.0 418.2,2876.5 420.2,2875.0 422.3,2873.5 424.4,2872.0 426.4,2870.4 428.5,2868.9 430.5,2867.3 432.6,2865.8 434.7,2864.2 436.7,2862.6 438.8,2861.0 440.9,2859.4 442.9,2857.7 445.0,2856.1 447.0,2854.4 449.1,2852.8 451.2,2851.1 453.2,2849.4 455.3,2847.7 457.3,2846.0 459.4,2844.3 461.5,2842.6 463.5,2840.8 465.6,2839.1 467.6,2837.3 469.7,2835.6 471.8,2833.8 473.8,2832.0 475.9,2830.2 478.0,2828.4 480.0,2826.6 482.1,2824.7 484.1,2822.9 486.2,2821.1 488.3,2819.2 490.3,2817.4 492.4,2815.5 494.4,2813.6 496.5,2811.7 498.6,2809.8 500.6,2807.9 502.7,2806.0 504.8,2804.1 506.8,2802.2 508.9,2800.3 510.9,2798.4 513.0,2796.4 515.1,2794.5 517.1,2792.5 519.2,2790.6 521.2,2788.6 523.3,2786.7 525.4,2784.7 527.4,2782.7 529.5,2780.8 531.5,2778.8 533.6,2776.8 535.7,2774.8 537.7,2772.8 539.8,2770.8 541.9,2768.9 543.9,2766.9 546.0,2764.9 548.0,2762.9 550.1,2760.9 552.2,2758.9 554.2,2756.9 556.3,2754.9 558.3,2752.9 560.4,2750.9 562.5,2748.9 564.5,2746.9 566.6,2744.9 568.7,2743.0 570.7,2741.0 572.8,2739.0 574.8,2737.0 576.9,2735.0 579.0,2733.1 581.0,2731.1 583.1,2729.2 585.1,2727.2 587.2,2725.2 589.3,2723.3 591.3,2721.4 593.4,2719.4 595.5,2717.5 597.5,2715.6 599.6,2713.7 601.6,2711.8 603.7,2709.9 605.8,2708.0 607.8,2706.1 609.9,2704.3 611.9,2702.4 614.0,2700.6 616.1,2698.7 618.1,2696.9 620.2,2695.1 622.2,2693.3 624.3,2691.5 626.4,2689.7 628.4,2687.9 630.5,2686.2 632.6,2684.4 634.6,2682.7 636.7,2681.0 638.7,2679.3 640.8,2677.6 642.9,2675.9 644.9,2674.2 647.0,2672.6 649.0,2671.0 651.1,2669.4 653.2,2667.8 655.2,2666.2 657.3,2664.6 659.4,2663.1 661.4,2661.5 663.5,2660.0 665.5,2658.5 667.6,2657.0 669.7,2655.6 671.7,2654.1 673.8,2652.7 675.8,2651.3 677.9,2649.9 680.0,2648.5 682.0,2647.2 684.1,2645.8 686.1,2644.5 688.2,2643.2 690.3,2641.9 692.3,2640.7 694.4,2639.5 696.5,2638.2 698.5,2637.0 700.6,2635.9 702.6,2634.7 704.7,2633.6 706.8,2632.5 708.8,2631.4 710.9,2630.3 712.9,2629.3 715.0,2628.2 717.1,2627.2 719.1,2626.2 721.2,2625.3 723.3,2624.3 725.3,2623.4 727.4,2622.5 729.4,2621.6 731.5,2620.8 733.6,2619.9 735.6,2619.1 737.7,2618.3 739.7,2617.6 741.8,2616.8 743.9,2616.1 745.9,2615.4 748.0,2614.7 750.1,2614.0 752.1,2613.4 754.2,2612.8 756.2,2612.2 758.3,2611.6 760.4,2611.0 762.4,2610.5 764.5,2610.0 766.5,2609.5 768.6,2609.0 770.7,2608.6 772.7,2608.1 774.8,2607.7 776.8,2607.3 778.9,2607.0 781.0,2606.6 783.0,2606.3 785.1,2606.0 787.2,2605.7 789.2,2605.4 791.3,2605.2 793.3,2605.0 795.4,2604.8 797.5,2604.6 799.5,2604.4 801.6,2604.3 803.6,2604.2 805.7,2604.0 807.8,2604.0 809.8,2603.9 811.9,2603.8 814.0,2603.8 816.0,2603.8 818.1,2603.8 820.1,2603.8 822.2,2603.8 824.3,2603.9 826.3,2604.0 828.4,2604.1 830.4,2604.2 832.5,2604.3 834.6,2604.4 836.6,2604.6 838.7,2604.8 840.7,2605.0 842.8,2605.2 844.9,2605.4 846.9,2605.6 849.0,2605.9 851.1,2606.2 853.1,2606.4 855.2,2606.7 857.2,2607.1 859.3,2607.4 861.4,2607.7 863.4,2608.1 865.5,2608.5 867.5,2608.8 869.6,2609.2 871.7,2609.7 873.7,2610.1 875.8,2610.5 877.9,2611.0 879.9,2611.4 882.0,2611.9 884.0,2612.4 886.1,2612.9 888.2,2613.4 890.2,2613.9 892.3,2614.5 894.3,2615.0 896.4,2615.6 898.5,2616.2 900.5,2616.7 902.6,2617.3 904.6,2617.9 906.7,2618.6 908.8,2619.2 910.8,2619.8 912.9,2620.4 915.0,2621.1 917.0,2621.8 919.1,2622.4 921.1,2623.1 923.2,2623.8 925.3,2624.5 927.3,2625.2 929.4,2625.9 931.4,2626.6 933.5,2627.4 935.6,2628.1 937.6,2628.8 939.7,2629.6 941.8,2630.4 943.8,2631.1 945.9,2631.9 947.9,2632.7 950.0,2633.5 952.1,2634.3 954.1,2635.1 956.2,2635.9 958.2,2636.7 960.3,2637.5 962.4,2638.3 964.4,2639.2 966.5,2640.0 968.6,2640.8 970.6,2641.7 972.7,2642.5 974.7,2643.4 976.8,2644.3 978.9,2645.1 980.9,2646.0 983.0,2646.9 985.0,2647.8 987.1,2648.6 989.2,2649.5 991.2,2650.4 993.3,2651.3 995.3,2652.2 997.4,2653.1 999.5,2654.0 1001.5,2654.9 1003.6,2655.9 1005.7,2656.8 1007.7,2657.7 1009.8,2658.6 1011.8,2659.5 1013.9,2660.5 1016.0,2661.4 1018.0,2662.3 1020.1,2663.3 1022.1,2664.2 1024.2,2665.2 1026.3,2666.1 1028.3,2667.0 1030.4,2668.0 1032.5,2668.9 1034.5,2669.9 1036.6,2670.8 1038.6,2671.8 1040.7,2672.8 1042.8,2673.7 1044.8,2674.7 1046.9,2675.6 1048.9,2676.6 1051.0,2677.6 1053.1,2678.5 1055.1,2679.5 1057.2,2680.4 1059.2,2681.4 1061.3,2682.4 1063.4,2683.3 1065.4,2684.3 1067.5,2685.3 1069.6,2686.2 1071.6,2687.2 1073.7,2688.2 1075.7,2689.1 1077.8,2690.1 1079.9,2691.1 1081.9,2692.1 1084.0,2693.0 1086.0,2694.0 1088.1,2695.0 1090.2,2695.9 1092.2,2696.9 1094.3,2697.9 1096.4,2698.8 1098.4,2699.8 1100.5,2700.8 1102.5,2701.7 1104.6,2702.7 1106.7,2703.7 1108.7,2704.6 1110.8,2705.6 1112.8,2706.6 1114.9,2707.5 1117.0,2708.5 1119.0,2709.4 1121.1,2710.4 1123.2,2711.4 1125.2,2712.3 1127.3,2713.3 1129.3,2714.2 1131.4,2715.2 1133.5,2716.1 1135.5,2717.1 1137.6,2718.0 1139.6,2719.0 1141.7,2719.9 1143.8,2720.9 1145.8,2721.8 1147.9,2722.8 1149.9,2723.7 1152.0,2724.7 1154.1,2725.6 1156.1,2726.5 1158.2,2727.5 1160.3,2728.4 1162.3,2729.3 1164.4,2730.3 1166.4,2731.2 1168.5,2732.1 1170.6,2733.0 1172.6,2734.0 1174.7,2734.9 1176.7,2735.8 1178.8,2736.7 1180.9,2737.7 1182.9,2738.6 1185.0,2739.5 1187.1,2740.4 1189.1,2741.3 1191.2,2742.2 1193.2,2743.1 1195.3,2744.0 1197.4,2744.9 1199.4,2745.8 1201.5,2746.7 1203.5,2747.6 1205.6,2748.5 1207.7,2749.4 1209.7,2750.3 1211.8,2751.2 1213.8,2752.1 1215.9,2752.9 1218.0,2753.8 1220.0,2754.7 1222.1,2755.6 1224.2,2756.5 1226.2,2757.3 1228.3,2758.2 1230.3,2759.1 1232.4,2759.9 1234.5,2760.8 1236.5,2761.7 1238.6,2762.5 1240.6,2763.4 1242.7,2764.2 1244.8,2765.1 1246.8,2765.9 1248.9,2766.8 1251.0,2767.6 1253.0,2768.5 1255.1,2769.3 1257.1,2770.1 1259.2,2771.0 1261.3,2771.8 1263.3,2772.6 1265.4,2773.5 1267.4,2774.3 1269.5,2775.1 1271.6,2775.9 1273.6,2776.8 1275.7,2777.6 1277.8,2778.4 1279.8,2779.2 1281.9,2780.0 1283.9,2780.8 1286.0,2781.6 1288.1,2782.4 1290.1,2783.2 1292.2,2784.0 1294.2,2784.8 1296.3,2785.6 1298.4,2786.4 1300.4,2787.2 1302.5,2788.0 1304.5,2788.8 1306.6,2789.5 1308.7,2790.3 1310.7,2791.1 1312.8,2791.9 1314.9,2792.7 1316.9,2793.4 1319.0,2794.2 1321.0,2795.0 1323.1,2795.7 1325.2,2796.5 1327.2,2797.2 1329.3,2798.0 1331.3,2798.7 1333.4,2799.5 1335.5,2800.2 1337.5,2801.0 1339.6,2801.7 1341.7,2802.5 1343.7,2803.2 1345.8,2803.9 1347.8,2804.7 1349.9,2805.4 1352.0,2806.1 1354.0,2806.9 1356.1,2807.6 1358.1,2808.3 1360.2,2809.0 1362.3,2809.7 1364.3,2810.4 1366.4,2811.2 1368.4,2811.9 1370.5,2812.6 1372.6,2813.3 1374.6,2814.0 1376.7,2814.7 1378.8,2815.4 1380.8,2816.1 1382.9,2816.8 1384.9,2817.5 1387.0,2818.1 1389.1,2818.8 1391.1,2819.5 1393.2,2820.2 1395.2,2820.9 1397.3,2821.6 1399.4,2822.2 1401.4,2822.9 1403.5,2823.6 1405.6,2824.2 1407.6,2824.9 1409.7,2825.6 1411.7,2826.2 1413.8,2826.9 1415.9,2827.5 1417.9,2828.2 1420.0,2828.8 1422.0,2829.5 1424.1,2830.1 1426.2,2830.8 1428.2,2831.4 1430.3,2832.1 1432.3,2832.7 1434.4,2833.3 1436.5,2834.0 1438.5,2834.6 1440.6,2835.2 1442.7,2835.9 1444.7,2836.5 1446.8,2837.1 1448.8,2837.7 1450.9,2838.4 1453.0,2839.0 1455.0,2839.6 1457.1,2840.2 1459.1,2840.8 1461.2,2841.4 1463.3,2842.0 1465.3,2842.6 1467.4,2843.2 1469.5,2843.8 1471.5,2844.4 1473.6,2845.0 1475.6,2845.6 1477.7,2846.2 1479.8,2846.8 1481.8,2847.4 1483.9,2848.0 1485.9,2848.5 1488.0,2849.1 1490.1,2849.7 1492.1,2850.3 1494.2,2850.8 1496.3,2851.4 1498.3,2852.0 1500.4,2852.6 1502.4,2853.1 1504.5,2853.7 1506.6,2854.2 1508.6,2854.8 1510.7,2855.4 1512.7,2855.9 1514.8,2856.5 1516.9,2857.0 1518.9,2857.6 1521.0,2858.1 1523.0,2858.7 1525.1,2859.2 1527.2,2859.8 1529.2,2860.3 1531.3,2860.8 1533.4,2861.4 1535.4,2861.9 1537.5,2862.4 1539.5,2863.0 1541.6,2863.5 1543.7,2864.0 1545.7,2864.5 1547.8,2865.1 1549.8,2865.6 1551.9,2866.1 1554.0,2866.6 1556.0,2867.1 1558.1,2867.6 1560.2,2868.2 1562.2,2868.7 1564.3,2869.2 1566.3,2869.7 1568.4,2870.2 1570.5,2870.7 1572.5,2871.2 1574.6,2871.7 1576.6,2872.2 1578.7,2872.7 1580.8,2873.2 1582.8,2873.7 1584.9,2874.1 1586.9,2874.6 1589.0,2875.1 1591.1,2875.6 1593.1,2876.1 1595.2,2876.6 1597.3,2877.0 1599.3,2877.5 1601.4,2878.0 1603.4,2878.5 1605.5,2878.9 1607.6,2879.4 1609.6,2879.9 1611.7,2880.3 1613.7,2880.8 1615.8,2881.3 1617.9,2881.7 1619.9,2882.2 1622.0,2882.7 1624.1,2883.1 1626.1,2883.6 1628.2,2884.0 1630.2,2884.5 1632.3,2884.9 1634.4,2885.4 1636.4,2885.8 1638.5,2886.3 1640.5,2886.7 1642.6,2887.1 1644.7,2887.6 1646.7,2888.0 1648.8,2888.5 1650.9,2888.9 1652.9,2889.3 1655.0,2889.8 1657.0,2890.2 1659.1,2890.6 1661.2,2891.0 1663.2,2891.5 1665.3,2891.9 1667.3,2892.3 1669.4,2892.7 1671.5,2893.1 1673.5,2893.6 1675.6,2894.0 1677.6,2894.4 1679.7,2894.8 1681.8,2895.2 1683.8,2895.6 1685.9,2896.0 1688.0,2896.4 1690.0,2896.9 1692.1,2897.3 1694.1,2897.7 1696.2,2898.1 1698.3,2898.5 1700.3,2898.9 1702.4,2899.3 1704.4,2899.6 1706.5,2900.0 1708.6,2900.4 1710.6,2900.8 1712.7,2901.2 1714.8,2901.6 1716.8,2902.0 1718.9,2902.4 1720.9,2902.8 1723.0,2903.1 1725.1,2903.5 1727.1,2903.9 1729.2,2904.3 1731.2,2904.6 1733.3,2905.0 1735.4,2905.4 1737.4,2905.8 1739.5,2906.1 1741.5,2906.5 1743.6,2906.9 1745.7,2907.2 1747.7,2907.6 1749.8,2908.0 1751.9,2908.3 1753.9,2908.7 1756.0,2909.1 1758.0,2909.4 1760.1,2909.8 1762.2,2910.1 1764.2,2910.5 1766.3,2910.8 1768.3,2911.2 1770.4,2911.5 1772.5,2911.9 1774.5,2912.2 1776.6,2912.6 1778.7,2912.9 1780.7,2913.3 1782.8,2913.6 1784.8,2913.9 1786.9,2914.3 1789.0,2914.6 1791.0,2915.0 1793.1,2915.3 1795.1,2915.6 1797.2,2916.0 1799.3,2916.3 1801.3,2916.6 1803.4,2917.0 1805.4,2917.3 1807.5,2917.6 1809.6,2917.9 1811.6,2918.3 1813.7,2918.6 1815.8,2918.9 1817.8,2919.2 1819.9,2919.6 1821.9,2919.9 1824.0,2920.2 1826.1,2920.5 1828.1,2920.8 1830.2,2921.1 1832.2,2921.5 1834.3,2921.8 1836.4,2922.1 1838.4,2922.4 1840.5,2922.7 1842.6,2923.0 1844.6,2923.3 1846.7,2923.6 1848.7,2923.9 1850.8,2924.2 1852.9,2924.5 1854.9,2924.8 1857.0,2925.1 1859.0,2925.4 1861.1,2925.7 1863.2,2926.0 1865.2,2926.3 1867.3,2926.6 1869.4,2926.9 1871.4,2927.2 1873.5,2927.5 1875.5,2927.8 1877.6,2928.1 1879.7,2928.4 1881.7,2928.6 1883.8,2928.9 1885.8,2929.2 1887.9,2929.5 1890.0,2929.8 1892.0,2930.1 1894.1,2930.3 1896.1,2930.6 1898.2,2930.9 1900.3,2931.2 1902.3,2931.4 1904.4,2931.7 1906.5,2932.0 1908.5,2932.3 1910.6,2932.5 1912.6,2932.8 1914.7,2933.1"/>
</g>
<text x="267.7" y="1394.8" text-anchor="middle" style="font-family:'Liberation Serif',serif;font-size:83px;fill:#202020">0</text>
<text x="679.5" y="1394.8" text-anchor="middle" style="font-family:'Liberation Serif',serif;font-size:83px;fill:#202020">5</text>
<text x="1091.2" y="1394.8" text-anchor="middle" style="font-family:'Liberation Serif',serif;font-size:83px;fill:#202020">10</text>
<text x="1503.0" y="1394.8" text-anchor="middle" style="font-family:'Liberation Serif',serif;font-size:83px;fill:#202020">15</text>
<text x="1914.7" y="1394.8" text-anchor="middle" style="font-family:'Liberation Serif',serif;font-size:83px;fill:#202020">20</text>
<text x="200.00" y="1322.7" style="font-family:'Liberation Serif',serif;font-size:83px;fill:#202020">0</text>
<text x="139.95 180.35 200.00" y="1072.8" style="font-family:'Liberation Serif',serif;font-size:83px;fill:#202020">0.2</text>
<text x="139.95 180.35 200.00" y="822.9" style="font-family:'Liberation Serif',serif;font-size:83px;fill:#202020">0.4</text>
<text x="139.95 180.35 200.00" y="573.1" style="font-family:'Liberation Serif',serif;font-size:83px;fill:#202020">0.6</text>
<text x="139.95 180.35 200.00" y="323.2" style="font-family:'Liberation Serif',serif;font-size:83px;fill:#202020">0.8</text>
<text x="198.90" y="73.3" style="font-family:'Liberation Serif',serif;font-size:83px;fill:#202020">1</text>
<text x="267.7" y="3106.3" text-anchor="middle" style="font-family:'Liberation Serif',serif;font-size:83px;fill:#202020">0</text>
<text x="597.1" y="3106.3" text-anchor="middle" style="font-family:'Liberation Serif',serif;font-size:83px;fill:#202020">2</text>
<text x="926.5" y="3106.3" text-anchor="middle" style="font-family:'Liberation Serif',serif;font-size:83px;fill:#202020">4</text>
<text x="1255.9" y="3106.3" text-anchor="middle" style="font-family:'Liberation Serif',serif;font-size:83px;fill:#202020">6</text>
<text x="1585.3" y="3106.3" text-anchor="middle" style="font-family:'Liberation Serif',serif;font-size:83px;fill:#202020">8</text>
<text x="1914.7" y="3106.3" text-anchor="middle" style="font-family:'Liberation Serif',serif;font-size:83px;fill:#202020">10</text>
<text x="200.00" y="3034.2" style="font-family:'Liberation Serif',serif;font-size:83px;fill:#202020">0</text>
<text x="139.95 180.35 200.00" y="2784.3" style="font-family:'Liberation Serif',serif;font-size:83px;fill:#202020">0.1</text>
<text x="139.95 180.35 200.00" y="2534.5" style="font-family:'Liberation Serif',serif;font-size:83px;fill:#202020">0.2</text>
<text x="139.95 180.35 200.00" y="2284.6" style="font-family:'Liberation Serif',serif;font-size:83px;fill:#202020">0.3</text>
<text x="139.95 180.35 200.00" y="2034.8" style="font-family:'Liberation Serif',serif;font-size:83px;fill:#202020">0.4</text>
<text x="139.95 180.35 200.00" y="1784.9" style="font-family:'Liberation Serif',serif;font-size:83px;fill:#202020">0.5</text>
<rect x="1438.9" y="789.8" width="403.4" height="383.6" fill="#fff" stroke="#111" stroke-width="2.3"/>
<path d="M1453.8,843.1H1606" stroke="#0072C0" stroke-width="15.5"/>
<text x="1616.4 1679.5 1725.6 1766.7 1784.7" y="871.9" style="font-family:'Liberation Serif',serif;font-size:83px;fill:#000">m=0.5</text>
<path d="M1453.8,935.5H1606" stroke="#F9530A" stroke-width="15.5"/>
<text x="1616.4 1679.5 1725.2" y="964.3" style="font-family:'Liberation Serif',serif;font-size:83px;fill:#000">m=1</text>
<path d="M1453.8,1027.9H1606" stroke="#FEB000" stroke-width="15.5"/>
<text x="1616.4 1679.5 1725.2" y="1056.7" style="font-family:'Liberation Serif',serif;font-size:83px;fill:#000">m=2</text>
<path d="M1453.8,1120.3H1606" stroke="#8E2991" stroke-width="15.5"/>
<text x="1616.4 1679.5 1725.2" y="1149.1" style="font-family:'Liberation Serif',serif;font-size:83px;fill:#000">m=4</text>
<rect x="1438.9" y="1876.6" width="403.4" height="383.6" fill="#fff" stroke="#111" stroke-width="2.3"/>
<path d="M1453.8,1929.9H1606" stroke="#0072C0" stroke-width="15.5"/>
<text x="1616.4 1679.5 1725.6 1766.7 1784.7" y="1958.7" style="font-family:'Liberation Serif',serif;font-size:83px;fill:#000">m=0.5</text>
<path d="M1453.8,2022.3H1606" stroke="#F9530A" stroke-width="15.5"/>
<text x="1616.4 1679.5 1725.2" y="2051.1" style="font-family:'Liberation Serif',serif;font-size:83px;fill:#000">m=1</text>
<path d="M1453.8,2114.7H1606" stroke="#FEB000" stroke-width="15.5"/>
<text x="1616.4 1679.5 1725.2" y="2143.5" style="font-family:'Liberation Serif',serif;font-size:83px;fill:#000">m=2</text>
<path d="M1453.8,2207.1H1606" stroke="#8E2991" stroke-width="15.5"/>
<text x="1616.4 1679.5 1725.2" y="2235.9" style="font-family:'Liberation Serif',serif;font-size:83px;fill:#000">m=4</text>
<text transform="translate(997.37,1488.27) scale(1.1225,0.9550)" style="font-family:'Liberation Serif',serif;font-size:100px;font-style:italic;font-weight:normal;fill:#202020;stroke:#fff;stroke-width:1.35px;stroke-linejoin:round">t</text>
<text transform="translate(1066.68,1489.21) scale(0.8683,0.9485)" style="font-family:'Liberation Serif',serif;font-size:100px;font-style:normal;font-weight:normal;fill:#202020;stroke:#fff;stroke-width:1.54px;stroke-linejoin:round">(</text>
<text transform="translate(1098.14,1488.50) scale(0.9810,0.8647)" style="font-family:'Liberation Serif',serif;font-size:100px;font-style:normal;font-weight:normal;fill:#202020;stroke:#fff;stroke-width:1.52px;stroke-linejoin:round">h</text>
<text transform="translate(1148.60,1489.21) scale(0.8683,0.9485)" style="font-family:'Liberation Serif',serif;font-size:100px;font-style:normal;font-weight:normal;fill:#202020;stroke:#fff;stroke-width:1.54px;stroke-linejoin:round">)</text>
<text transform="translate(997.37,3199.87) scale(1.1225,0.9550)" style="font-family:'Liberation Serif',serif;font-size:100px;font-style:italic;font-weight:normal;fill:#202020;stroke:#fff;stroke-width:1.35px;stroke-linejoin:round">t</text>
<text transform="translate(1066.68,3200.81) scale(0.8683,0.9485)" style="font-family:'Liberation Serif',serif;font-size:100px;font-style:normal;font-weight:normal;fill:#202020;stroke:#fff;stroke-width:1.54px;stroke-linejoin:round">(</text>
<text transform="translate(1098.14,3200.10) scale(0.9810,0.8647)" style="font-family:'Liberation Serif',serif;font-size:100px;font-style:normal;font-weight:normal;fill:#202020;stroke:#fff;stroke-width:1.52px;stroke-linejoin:round">h</text>
<text transform="translate(1148.60,3200.81) scale(0.8683,0.9485)" style="font-family:'Liberation Serif',serif;font-size:100px;font-style:normal;font-weight:normal;fill:#202020;stroke:#fff;stroke-width:1.54px;stroke-linejoin:round">)</text>
<text transform="translate(93.42,756.74) rotate(-90) scale(0.8975,0.8587)" style="font-family:'Liberation Serif',serif;font-size:100px;font-style:italic;font-weight:normal;fill:#202020;stroke:#fff;stroke-width:1.59px;stroke-linejoin:round">g</text>
<text transform="translate(94.58,707.62) rotate(-90) scale(0.8683,0.9970)" style="font-family:'Liberation Serif',serif;font-size:100px;font-style:normal;font-weight:normal;fill:#202020;stroke:#fff;stroke-width:1.50px;stroke-linejoin:round">(</text>
<text transform="translate(93.51,680.30) rotate(-90) scale(1.1146,1.0092)" style="font-family:'Liberation Serif',serif;font-size:100px;font-style:italic;font-weight:normal;fill:#202020;stroke:#fff;stroke-width:1.32px;stroke-linejoin:round">t</text>
<text transform="translate(94.58,643.20) rotate(-90) scale(0.8683,0.9970)" style="font-family:'Liberation Serif',serif;font-size:100px;font-style:normal;font-weight:normal;fill:#202020;stroke:#fff;stroke-width:1.50px;stroke-linejoin:round">)</text>
<text transform="translate(93.76,2580.93) rotate(-90) scale(1.1496,0.8838)" style="font-family:'Liberation Serif',serif;font-size:100px;font-style:italic;font-weight:normal;fill:#202020;stroke:#fff;stroke-width:1.39px;stroke-linejoin:round">u</text>
<text transform="translate(94.48,2521.40) rotate(-90) scale(0.8644,0.9970)" style="font-family:'Liberation Serif',serif;font-size:100px;font-style:normal;font-weight:normal;fill:#202020;stroke:#fff;stroke-width:1.51px;stroke-linejoin:round">(</text>
<text transform="translate(93.61,2494.18) rotate(-90) scale(1.1106,1.0144)" style="font-family:'Liberation Serif',serif;font-size:100px;font-style:italic;font-weight:normal;fill:#202020;stroke:#fff;stroke-width:1.32px;stroke-linejoin:round">t</text>
<text transform="translate(94.48,2456.92) rotate(-90) scale(0.8449,0.9970)" style="font-family:'Liberation Serif',serif;font-size:100px;font-style:normal;font-weight:normal;fill:#202020;stroke:#fff;stroke-width:1.53px;stroke-linejoin:round">)</text>
<text transform="translate(94.65,2390.13) rotate(-90) scale(0.8722,0.9981)" style="font-family:'Liberation Serif',serif;font-size:100px;font-style:normal;font-weight:normal;fill:#202020;stroke:#fff;stroke-width:1.50px;stroke-linejoin:round">(</text>
<text transform="translate(93.60,2360.56) rotate(-90) scale(0.8948,0.9210)" style="font-family:'Liberation Serif',serif;font-size:100px;font-style:normal;font-weight:normal;fill:#202020;stroke:#fff;stroke-width:1.54px;stroke-linejoin:round">1</text>
<text transform="translate(114.58,2310.80) rotate(-90) scale(1.2921,1.3529)" style="font-family:'Liberation Serif',serif;font-size:100px;font-style:normal;font-weight:normal;fill:#202020;stroke:#fff;stroke-width:1.06px;stroke-linejoin:round">/</text>
<text transform="translate(94.50,2269.65) rotate(-90) scale(1.0654,0.9210)" style="font-family:'Liberation Serif',serif;font-size:100px;font-style:italic;font-weight:normal;fill:#202020;stroke:#fff;stroke-width:1.41px;stroke-linejoin:round">h</text>
<text transform="translate(94.65,2217.07) rotate(-90) scale(0.8605,0.9981)" style="font-family:'Liberation Serif',serif;font-size:100px;font-style:normal;font-weight:normal;fill:#202020;stroke:#fff;stroke-width:1.51px;stroke-linejoin:round">)</text>
<defs><filter id="al" x="-10%" y="-10%" width="120%" height="120%" color-interpolation-filters="sRGB"><feComponentTransfer><feFuncR type="discrete" tableValues="0 1"/><feFuncG type="discrete" tableValues="0 1"/><feFuncB type="discrete" tableValues="0 1"/><feFuncA type="discrete" tableValues="0 1"/></feComponentTransfer></filter></defs><g filter="url(#al)">
<text transform="translate(1008.46,1612.54) scale(0.8955,0.8955)" style="font-family:'Liberation Serif',serif;font-size:100px;font-style:normal;font-weight:bold;fill:#000;stroke:#fff;stroke-width:3.35px;stroke-linejoin:round">(</text>
<text transform="translate(1036.58,1611.54) scale(0.8439,0.8768)" style="font-family:'Liberation Serif',serif;font-size:100px;font-style:normal;font-weight:bold;fill:#000;stroke:#fff;stroke-width:1.16px;stroke-linejoin:round">a</text>
<text transform="translate(1076.60,1612.54) scale(0.8994,0.8955)" style="font-family:'Liberation Serif',serif;font-size:100px;font-style:normal;font-weight:bold;fill:#000;stroke:#fff;stroke-width:3.34px;stroke-linejoin:round">)</text>
<text transform="translate(1003.46,3324.51) scale(0.8955,0.8922)" style="font-family:'Liberation Serif',serif;font-size:100px;font-style:normal;font-weight:bold;fill:#000;stroke:#fff;stroke-width:3.36px;stroke-linejoin:round">(</text>
<text transform="translate(1031.31,3324.22) scale(0.9345,0.9053)" style="font-family:'Liberation Serif',serif;font-size:100px;font-style:normal;font-weight:bold;fill:#000;stroke:#fff;stroke-width:1.09px;stroke-linejoin:round">b</text>
<text transform="translate(1081.74,3324.51) scale(0.8877,0.8922)" style="font-family:'Liberation Serif',serif;font-size:100px;font-style:normal;font-weight:bold;fill:#000;stroke:#fff;stroke-width:3.37px;stroke-linejoin:round">)</text>
</g>
</svg></body></html>
